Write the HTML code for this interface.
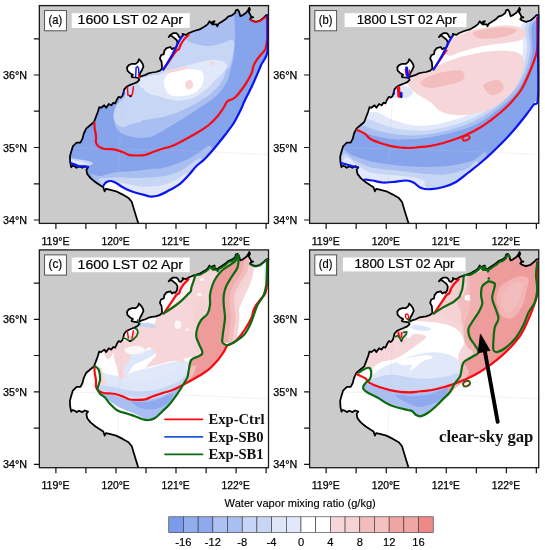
<!DOCTYPE html>
<html><head><meta charset="utf-8"><title>Water vapor mixing ratio</title>
<style>html,body{margin:0;padding:0;background:#fff}svg{display:block}.tk{font:10px "Liberation Sans",sans-serif;fill:#000;stroke:#000;stroke-width:0.25px}.lb{font:12.6px "Liberation Sans",sans-serif;fill:#000;stroke:#000;stroke-width:0.2px}.tt{font:13.4px "Liberation Sans",sans-serif;fill:#000;stroke:#000;stroke-width:0.2px}.lg{font:bold 14.6px "Liberation Serif",serif;fill:#111}.an{font:bold 16.7px "Liberation Serif",serif;fill:#111}.cb{font:11.2px "Liberation Sans",sans-serif;fill:#000;stroke:#000;stroke-width:0.15px}</style></head><body>
<svg width="545" height="550" viewBox="0 0 545 550">
<defs><clipPath id="oc"><path d="M138.4 223.6 L136.0 216.0 L133.5 207.8 L131.8 202.0 L128.5 197.9 L122.7 194.6 L116.1 191.3 L109.5 189.6 L105.9 188.8 L104.6 191.3 L103.3 187.2 L100.5 185.5 L95.5 182.2 L90.5 178.1 L87.2 173.9 L86.4 169.8 L88.1 167.3 L84.8 166.2 L82.3 167.8 L79.0 166.5 L76.5 167.8 L74.9 166.5 L72.4 165.7 L71.2 167.3 L70.2 162.4 L69.9 156.6 L70.9 152.8 L72.8 146.4 L76.7 142.5 L80.5 142.5 L82.5 138.7 L83.8 133.5 L86.3 128.4 L90.2 125.2 L94.0 122.0 L96.0 116.8 L97.9 111.7 L99.2 107.2 L101.1 107.8 L104.3 105.3 L106.2 107.8 L108.8 104.0 L111.4 105.3 L113.3 102.7 L115.2 103.3 L116.9 99.5 L118.7 96.8 L120.6 97.7 L122.4 95.9 L123.3 93.1 L124.2 89.4 L126.5 86.7 L130.2 84.9 L133.9 83.5 L137.1 82.1 L139.4 79.8 L138.4 78.0 L135.2 77.5 L132.0 77.1 L131.6 76.1 L132.9 74.8 L129.7 72.9 L127.4 70.6 L127.0 67.4 L128.8 65.1 L132.0 63.8 L135.7 63.8 L138.0 61.9 L138.9 59.2 L140.7 61.0 L142.6 63.8 L143.5 66.5 L142.1 69.7 L140.3 72.9 L139.4 75.2 L139.8 77.1 L141.7 76.1 L144.9 75.2 L148.5 73.4 L152.2 72.5 L155.9 72.0 L160.0 70.6 L162.1 68.5 L161.6 61.9 L159.9 58.5 L161.0 55.2 L163.8 54.1 L164.3 50.8 L166.5 48.1 L170.4 47.0 L172.0 49.2 L173.7 48.1 L175.3 48.6 L177.0 45.9 L177.5 42.0 L176.4 39.8 L173.7 37.6 L170.9 35.4 L168.7 37.1 L170.4 34.9 L173.1 33.2 L176.4 33.2 L178.1 34.9 L179.2 37.1 L180.8 37.6 L183.0 35.4 L182.5 33.8 L184.1 34.3 L186.3 34.9 L188.5 33.2 L194.0 31.0 L199.6 29.4 L205.0 26.3 L207.6 24.4 L209.5 21.2 L210.8 23.1 L212.7 21.8 L214.6 21.2 L212.1 24.4 L216.6 24.4 L217.2 26.3 L218.5 23.8 L221.7 21.8 L225.5 19.3 L228.1 16.7 L232.0 15.4 L235.2 12.8 L235.8 10.3 L237.8 9.6 L239.0 11.6 L240.3 16.1 L242.2 15.4 L246.1 12.8 L248.0 10.3 L249.3 7.7 L250.0 9.6 L248.7 12.2 L250.0 14.1 L251.2 16.7 L253.2 17.3 L250.6 18.0 L250.0 19.3 L251.9 20.5 L255.7 21.8 L260.2 20.5 L263.4 18.0 L266.0 15.4 L268.6 14.5 L268.5 223.4 L138.8 223.4Z"/></clipPath>
<clipPath id="oca"><path d="M267.7 15.4 L267.7 38.5 L267.5 51.4 L265.4 57.8 L261.5 64.2 L259.0 70.0 L252.5 85.0 L245.0 100.0 L241.2 108.8 L237.5 116.2 L232.5 125.0 L225.0 135.0 L215.0 147.5 L205.0 158.8 L196.2 166.2 L188.8 175.0 L180.0 183.8 L167.5 191.2 L157.5 195.8 L150.0 196.5 L145.9 195.4 L137.6 193.3 L129.4 190.5 L122.7 187.2 L116.1 183.0 L111.2 181.0 L106.2 182.2 L103.3 185.8 L95.0 182.0 L86.0 175.0 L86.0 169.5 L72.0 166.5 L60.0 166.0 L60.0 100.0 L120.0 60.0 L160.0 30.0 L240.0 0.0 L275.0 0.0Z"/></clipPath>
<clipPath id="ocb"><path d="M268.2 15.0 L267.8 45.0 L267.8 97.5 L263.2 105.0 L255.8 115.0 L245.8 127.5 L235.8 138.8 L223.2 151.2 L210.8 162.5 L198.2 172.5 L185.8 182.0 L173.2 187.0 L160.8 189.2 L150.8 188.0 L143.2 182.5 L135.8 180.5 L122.2 182.0 L112.2 182.5 L102.2 180.5 L94.8 179.5 L95.0 182.0 L86.0 175.0 L86.0 169.5 L72.0 166.5 L60.0 166.0 L60.0 100.0 L120.0 60.0 L160.0 30.0 L240.0 0.0 L275.0 0.0Z"/></clipPath>
<clipPath id="occ"><path d="M80.0 122.0 C82.5 125.7 91.9 121.3 95.0 121.9 C98.1 122.6 97.9 123.4 98.8 125.7 C99.6 128.0 100.2 132.6 100.0 135.7 C99.8 138.8 97.5 142.2 97.5 144.4 C97.5 146.7 98.8 148.0 100.0 149.4 C101.2 150.9 103.3 151.5 105.0 153.2 C106.7 154.9 107.9 157.3 110.0 159.4 C112.1 161.6 114.6 164.5 117.5 166.2 C120.4 167.9 124.6 168.5 127.5 169.4 C130.4 170.4 132.5 171.0 135.0 171.9 C137.5 172.9 140.2 174.3 142.5 174.9 C144.8 175.6 146.7 175.9 148.8 175.7 C150.8 175.5 152.7 175.2 155.0 173.7 C157.3 172.2 160.0 169.3 162.5 166.9 C165.0 164.6 167.5 162.4 170.0 159.4 C172.5 156.5 175.2 152.8 177.5 149.4 C179.8 146.1 181.9 141.5 183.8 139.4 C185.6 137.4 186.5 138.2 188.8 137.0 C191.0 135.8 194.2 134.5 197.5 132.5 C200.8 130.5 205.4 127.7 208.8 125.0 C212.1 122.3 215.0 119.2 217.5 116.2 C220.0 113.3 222.1 110.0 223.8 107.5 C225.4 105.0 226.9 102.6 227.5 101.5 C228.1 100.4 225.8 101.7 227.5 100.7 C229.2 99.7 234.6 97.6 237.5 95.7 C240.4 93.8 242.9 91.9 245.0 89.4 C247.1 86.9 248.5 83.8 250.0 80.7 C251.5 77.6 252.5 74.0 253.8 70.7 C255.0 67.4 255.8 64.0 257.5 60.7 C259.2 57.4 262.3 54.0 263.8 50.7 C265.2 47.4 265.7 44.9 266.2 40.7 C266.8 36.5 266.8 29.7 267.0 25.7 C267.2 21.7 266.2 19.6 267.5 16.9 C268.8 14.3 273.8 13.7 275.0 10.0 C276.2 6.3 280.8 -2.5 275.0 -5.0 C269.2 -7.5 259.2 -10.8 240.0 -5.0 C220.8 0.8 180.0 19.2 160.0 30.0 C140.0 40.8 133.3 48.3 120.0 60.0 C106.7 71.7 86.7 89.7 80.0 100.0 C73.3 110.3 77.5 118.3 80.0 122.0Z"/></clipPath>
<clipPath id="ocd"><path d="M80.0 128.0 C81.4 132.7 86.0 128.8 88.5 128.2 C91.0 127.6 93.0 125.2 94.8 124.4 C96.5 123.7 98.2 123.1 99.2 123.7 C100.3 124.3 100.9 126.4 101.0 128.2 C101.1 130.0 100.8 132.6 99.8 134.4 C98.7 136.3 95.9 137.9 94.8 139.4 C93.6 141.0 92.3 142.2 92.8 143.7 C93.2 145.2 94.8 146.6 97.2 148.2 C99.7 149.8 103.9 151.3 107.2 153.2 C110.6 155.1 113.9 157.8 117.2 159.4 C120.6 161.1 123.9 162.2 127.2 163.2 C130.6 164.2 134.8 165.1 137.2 165.7 C139.7 166.3 140.6 166.1 142.0 166.9 C143.4 167.8 144.3 169.9 145.8 170.7 C147.2 171.5 148.7 172.4 150.8 171.9 C152.8 171.5 155.8 169.9 158.2 168.2 C160.8 166.5 163.2 164.2 165.8 161.9 C168.2 159.7 171.0 156.7 173.2 154.4 C175.5 152.2 175.3 151.6 179.5 148.2 C183.7 144.8 193.0 137.3 198.2 133.8 C203.5 130.2 207.0 129.3 210.8 127.0 C214.5 124.7 217.4 122.5 220.8 120.0 C224.1 117.5 227.4 114.9 230.8 112.0 C234.1 109.1 237.4 106.2 240.8 102.5 C244.1 98.8 247.8 94.6 250.8 90.0 C253.7 85.4 256.0 80.2 258.2 75.0 C260.5 69.8 263.0 63.3 264.5 58.8 C266.0 54.2 266.6 54.4 267.0 47.5 C267.4 40.6 265.7 23.8 267.0 17.5 C268.3 11.2 273.7 13.8 275.0 10.0 C276.3 6.2 280.8 -2.5 275.0 -5.0 C269.2 -7.5 259.2 -10.8 240.0 -5.0 C220.8 0.8 180.0 19.2 160.0 30.0 C140.0 40.8 133.3 48.3 120.0 60.0 C106.7 71.7 86.7 88.7 80.0 100.0 C73.3 111.3 78.6 123.3 80.0 128.0Z"/></clipPath>
<clipPath id="crl"><path d="M238.8 11.9 C237.5 15.8 238.8 19.7 237.5 23.2 C236.2 26.7 233.1 30.1 231.2 33.2 C229.4 36.3 227.5 39.0 226.2 41.9 C225.0 44.9 224.2 47.6 223.8 50.7 C223.3 53.8 223.5 56.9 223.8 60.7 C224.0 64.4 225.0 69.4 225.0 73.2 C225.0 76.9 224.2 79.9 223.8 83.2 C223.3 86.5 222.7 90.7 222.5 93.2 C222.3 95.7 221.7 96.9 222.5 98.2 C223.3 99.4 225.0 101.1 227.5 100.7 C230.0 100.3 234.6 97.6 237.5 95.7 C240.4 93.8 242.9 91.9 245.0 89.4 C247.1 86.9 248.5 83.8 250.0 80.7 C251.5 77.6 252.5 74.0 253.8 70.7 C255.0 67.4 255.8 64.0 257.5 60.7 C259.2 57.4 262.3 54.0 263.8 50.7 C265.2 47.4 265.7 44.9 266.2 40.7 C266.8 36.5 266.8 29.7 267.0 25.7 C267.2 21.7 266.2 19.6 267.5 16.9 C268.8 14.3 273.8 12.8 275.0 10.0 C276.2 7.2 280.0 1.7 275.0 0.0 C270.0 -1.7 251.0 -2.0 245.0 0.0 C239.0 2.0 240.0 8.1 238.8 11.9Z"/></clipPath>
</defs>
<rect width="545" height="550" fill="#fff"/>
<g transform="translate(0,0)">
<rect x="39.35" y="5.6" width="229.15" height="217.8" fill="#cbcbcb"/>
<path d="M138.4 223.6 L136.0 216.0 L133.5 207.8 L131.8 202.0 L128.5 197.9 L122.7 194.6 L116.1 191.3 L109.5 189.6 L105.9 188.8 L104.6 191.3 L103.3 187.2 L100.5 185.5 L95.5 182.2 L90.5 178.1 L87.2 173.9 L86.4 169.8 L88.1 167.3 L84.8 166.2 L82.3 167.8 L79.0 166.5 L76.5 167.8 L74.9 166.5 L72.4 165.7 L71.2 167.3 L70.2 162.4 L69.9 156.6 L70.9 152.8 L72.8 146.4 L76.7 142.5 L80.5 142.5 L82.5 138.7 L83.8 133.5 L86.3 128.4 L90.2 125.2 L94.0 122.0 L96.0 116.8 L97.9 111.7 L99.2 107.2 L101.1 107.8 L104.3 105.3 L106.2 107.8 L108.8 104.0 L111.4 105.3 L113.3 102.7 L115.2 103.3 L116.9 99.5 L118.7 96.8 L120.6 97.7 L122.4 95.9 L123.3 93.1 L124.2 89.4 L126.5 86.7 L130.2 84.9 L133.9 83.5 L137.1 82.1 L139.4 79.8 L138.4 78.0 L135.2 77.5 L132.0 77.1 L131.6 76.1 L132.9 74.8 L129.7 72.9 L127.4 70.6 L127.0 67.4 L128.8 65.1 L132.0 63.8 L135.7 63.8 L138.0 61.9 L138.9 59.2 L140.7 61.0 L142.6 63.8 L143.5 66.5 L142.1 69.7 L140.3 72.9 L139.4 75.2 L139.8 77.1 L141.7 76.1 L144.9 75.2 L148.5 73.4 L152.2 72.5 L155.9 72.0 L160.0 70.6 L162.1 68.5 L161.6 61.9 L159.9 58.5 L161.0 55.2 L163.8 54.1 L164.3 50.8 L166.5 48.1 L170.4 47.0 L172.0 49.2 L173.7 48.1 L175.3 48.6 L177.0 45.9 L177.5 42.0 L176.4 39.8 L173.7 37.6 L170.9 35.4 L168.7 37.1 L170.4 34.9 L173.1 33.2 L176.4 33.2 L178.1 34.9 L179.2 37.1 L180.8 37.6 L183.0 35.4 L182.5 33.8 L184.1 34.3 L186.3 34.9 L188.5 33.2 L194.0 31.0 L199.6 29.4 L205.0 26.3 L207.6 24.4 L209.5 21.2 L210.8 23.1 L212.7 21.8 L214.6 21.2 L212.1 24.4 L216.6 24.4 L217.2 26.3 L218.5 23.8 L221.7 21.8 L225.5 19.3 L228.1 16.7 L232.0 15.4 L235.2 12.8 L235.8 10.3 L237.8 9.6 L239.0 11.6 L240.3 16.1 L242.2 15.4 L246.1 12.8 L248.0 10.3 L249.3 7.7 L250.0 9.6 L248.7 12.2 L250.0 14.1 L251.2 16.7 L253.2 17.3 L250.6 18.0 L250.0 19.3 L251.9 20.5 L255.7 21.8 L260.2 20.5 L263.4 18.0 L266.0 15.4 L268.6 14.5 L268.5 223.4 L138.8 223.4Z" fill="#fff"/>
<g clip-path="url(#oc)">
<path d="M267.7 15.4 L267.7 38.5 L267.5 51.4 L265.4 57.8 L261.5 64.2 L259.0 70.0 L252.5 85.0 L245.0 100.0 L241.2 108.8 L237.5 116.2 L232.5 125.0 L225.0 135.0 L215.0 147.5 L205.0 158.8 L196.2 166.2 L188.8 175.0 L180.0 183.8 L167.5 191.2 L157.5 195.8 L150.0 196.5 L145.9 195.4 L137.6 193.3 L129.4 190.5 L122.7 187.2 L116.1 183.0 L111.2 181.0 L106.2 182.2 L103.3 185.8 L95.0 182.0 L86.0 175.0 L86.0 169.5 L72.0 166.5 L60.0 166.0 L60.0 100.0 L120.0 60.0 L160.0 30.0 L240.0 0.0 L275.0 0.0Z" fill="#86a4ec"/>
<path d="M196.2 166.2 C192.4 170.4 191.5 172.1 188.8 175.0 C186.0 177.9 183.5 181.0 180.0 183.8 C176.5 186.5 171.2 189.2 167.5 191.2 C163.8 193.2 160.4 194.9 157.5 195.8 C154.6 196.6 151.9 196.6 150.0 196.5 C148.1 196.4 148.0 195.9 145.9 195.4 C143.8 194.9 140.3 194.1 137.6 193.3 C134.8 192.5 131.9 191.5 129.4 190.5 C126.9 189.5 124.9 188.4 122.7 187.2 C120.5 185.9 118.0 184.0 116.1 183.0 C114.2 182.0 112.8 181.1 111.2 181.0 C109.6 180.9 107.5 181.4 106.2 182.2 C104.9 183.0 105.2 186.2 103.3 185.8 C101.4 185.4 97.0 182.0 95.0 180.0 C93.0 178.0 90.2 174.7 91.0 174.0 C91.8 173.3 96.8 176.1 100.0 176.0 C103.2 175.9 107.0 174.2 110.0 173.5 C113.0 172.8 115.0 172.3 118.0 172.0 C121.0 171.7 124.3 171.8 128.0 171.5 C131.7 171.2 136.3 170.9 140.0 170.5 C143.7 170.1 146.7 169.3 150.0 169.0 C153.3 168.7 156.7 169.0 160.0 168.5 C163.3 168.0 166.7 167.0 170.0 166.0 C173.3 165.0 176.7 163.8 180.0 162.5 C183.3 161.2 186.7 159.8 190.0 158.0 C193.3 156.2 197.0 154.0 200.0 152.0 C203.0 150.0 206.0 146.3 208.0 146.0 C210.0 145.7 214.0 146.6 212.0 150.0 C210.0 153.4 200.1 162.1 196.2 166.2Z" fill="#a9bef1"/>
<path d="M196.2 166.2 C193.9 168.8 191.5 172.1 188.8 175.0 C186.0 177.9 183.5 181.0 180.0 183.8 C176.5 186.5 171.2 189.2 167.5 191.2 C163.8 193.2 160.4 194.9 157.5 195.8 C154.6 196.6 151.9 196.6 150.0 196.5 C148.1 196.4 148.0 195.9 145.9 195.4 C143.8 194.9 140.3 194.1 137.6 193.3 C134.8 192.5 131.9 191.5 129.4 190.5 C126.9 189.5 124.9 188.4 122.7 187.2 C120.5 185.9 118.0 184.0 116.1 183.0 C114.2 182.0 112.8 181.1 111.2 181.0 C109.6 180.9 107.5 181.4 106.2 182.2 C104.9 183.0 104.5 186.3 103.3 185.8 C102.1 185.3 98.4 180.3 99.0 179.0 C99.6 177.7 104.2 178.3 107.0 178.0 C109.8 177.7 112.8 177.1 116.0 177.0 C119.2 176.9 122.3 177.3 126.0 177.5 C129.7 177.7 134.0 178.0 138.0 178.0 C142.0 178.0 145.5 177.8 150.0 177.5 C154.5 177.2 160.3 176.9 165.0 176.0 C169.7 175.1 174.2 173.7 178.0 172.0 C181.8 170.3 184.7 168.2 188.0 166.0 C191.3 163.8 195.5 160.0 198.0 159.0 C200.5 158.0 203.3 158.8 203.0 160.0 C202.7 161.2 198.6 163.8 196.2 166.2Z" fill="#c8d6f6"/>
<path d="M188.8 175.0 C187.9 176.6 183.5 181.0 180.0 183.8 C176.5 186.5 171.2 189.2 167.5 191.2 C163.8 193.2 160.4 194.9 157.5 195.8 C154.6 196.6 151.9 196.6 150.0 196.5 C148.1 196.4 148.0 195.9 145.9 195.4 C143.8 194.9 140.3 194.1 137.6 193.3 C134.8 192.5 131.9 191.5 129.4 190.5 C126.9 189.5 124.9 188.4 122.7 187.2 C120.5 185.9 118.0 184.0 116.1 183.0 C114.2 182.0 112.8 181.1 111.2 181.0 C109.6 180.9 107.5 181.4 106.2 182.2 C104.9 183.0 103.8 185.5 103.3 185.8 C102.8 186.1 102.2 184.8 103.0 184.0 C103.8 183.2 106.0 181.5 108.0 181.0 C110.0 180.5 112.2 180.6 115.0 181.0 C117.8 181.4 121.3 182.7 125.0 183.5 C128.7 184.3 132.8 185.5 137.0 186.0 C141.2 186.5 145.7 186.7 150.0 186.5 C154.3 186.3 158.8 186.0 163.0 185.0 C167.2 184.0 171.3 182.3 175.0 180.5 C178.7 178.7 182.7 174.9 185.0 174.0 C187.3 173.1 189.6 173.4 188.8 175.0Z" fill="#e0e8fa"/>
<path d="M70.0 158.0 C70.7 157.3 73.3 158.6 76.0 159.0 C78.7 159.4 83.2 159.8 86.0 160.5 C88.8 161.2 92.7 162.1 93.0 163.0 C93.3 163.9 90.2 165.8 88.0 166.0 C85.8 166.2 82.7 165.0 80.0 164.5 C77.3 164.0 73.7 164.1 72.0 163.0 C70.3 161.9 69.3 158.7 70.0 158.0Z" fill="#c8d6f6"/>
<path d="M70.0 160.5 C70.7 160.1 73.7 160.7 76.0 161.0 C78.3 161.3 82.0 161.8 84.0 162.5 C86.0 163.2 88.7 164.6 88.0 165.0 C87.3 165.4 82.7 165.1 80.0 164.8 C77.3 164.6 73.7 164.2 72.0 163.5 C70.3 162.8 69.3 160.9 70.0 160.5Z" fill="#e0e8fa"/>
<path d="M233.8 12.0 C234.6 18.2 235.2 29.1 235.0 37.5 C234.8 45.9 234.2 55.0 232.5 62.5 C230.8 70.0 228.8 76.2 225.0 82.5 C221.2 88.8 215.4 95.0 210.0 100.0 C204.6 105.0 198.8 108.3 192.5 112.5 C186.2 116.7 178.8 121.2 172.5 125.0 C166.2 128.8 159.2 132.9 155.0 135.0 C150.8 137.1 150.8 137.1 147.5 137.5 C144.2 137.9 139.2 138.1 135.0 137.5 C130.8 136.9 125.6 135.4 122.5 133.8 C119.4 132.1 117.7 130.2 116.2 127.5 C114.8 124.8 114.0 120.8 113.8 117.5 C113.5 114.2 114.2 110.6 115.0 107.5 C115.8 104.4 119.6 101.9 118.8 99.0 C117.9 96.1 104.8 98.2 110.0 90.0 C115.2 81.8 135.0 62.5 150.0 50.0 C165.0 37.5 186.7 23.3 200.0 15.0 C213.3 6.7 224.4 0.5 230.0 0.0 C235.6 -0.5 232.9 5.8 233.8 12.0Z" fill="#a9bef1"/>
<path d="M232.5 40.0 C234.4 41.2 234.6 44.6 233.8 50.0 C232.9 55.4 230.6 65.8 227.5 72.5 C224.4 79.2 220.0 85.0 215.0 90.0 C210.0 95.0 203.8 98.8 197.5 102.5 C191.2 106.2 184.6 109.6 177.5 112.5 C170.4 115.4 162.1 118.2 155.0 120.0 C147.9 121.8 140.5 121.8 135.0 123.0 C129.5 124.2 125.4 127.3 122.0 127.0 C118.6 126.7 115.8 123.5 114.5 121.0 C113.2 118.5 113.4 114.8 114.0 112.0 C114.6 109.2 116.2 106.7 118.0 104.0 C119.8 101.3 124.7 99.2 125.0 96.0 C125.3 92.8 115.8 91.0 120.0 85.0 C124.2 79.0 141.7 67.5 150.0 60.0 C158.3 52.5 164.5 43.7 170.0 40.0 C175.5 36.3 179.2 37.5 183.0 38.0 C186.8 38.5 188.4 41.7 192.5 43.0 C196.6 44.3 202.5 46.0 207.5 46.0 C212.5 46.0 218.3 44.0 222.5 43.0 C226.7 42.0 230.6 38.8 232.5 40.0Z" fill="#c8d6f6"/>
<path d="M141.3 122.8 C145.0 122.2 156.4 120.8 163.3 119.2 C170.2 117.6 176.2 115.7 182.6 113.1 C189.0 110.5 196.3 106.8 201.8 103.5 C207.3 100.2 211.7 97.2 215.6 93.3 C219.5 89.4 223.1 84.2 225.2 80.1 C227.4 76.0 227.8 70.5 228.3 68.5" fill="none" stroke="#a9bef1" stroke-width="4.5"/>
<path d="M144.0 86.4 C145.4 83.9 150.5 79.5 155.1 76.8 C159.6 74.0 165.6 72.0 171.6 69.9 C177.5 67.8 184.4 66.0 190.8 64.4 C197.3 62.8 204.6 60.7 210.1 60.3 C215.6 59.8 221.1 60.3 223.9 61.7 C226.6 63.0 228.0 65.6 226.6 68.5 C225.2 71.5 219.3 75.9 215.6 79.5 C211.9 83.2 208.7 87.3 204.6 90.6 C200.5 93.8 195.9 97.2 190.8 98.8 C185.8 100.4 179.8 100.6 174.3 100.2 C168.8 99.7 162.4 97.4 157.8 96.1 C153.2 94.7 149.1 93.5 146.8 91.9 C144.5 90.3 142.7 89.0 144.0 86.4Z" fill="#e0e8fa"/>
<path d="M163.9 80.9 C164.3 77.3 167.5 73.8 171.6 71.8 C175.6 69.9 183.0 69.1 188.1 69.1 C193.1 69.1 199.3 69.6 201.8 71.8 C204.4 74.0 204.1 78.9 203.2 82.3 C202.3 85.6 199.8 89.6 196.3 91.9 C192.9 94.2 187.2 95.7 182.6 96.1 C178.0 96.4 171.9 96.4 168.8 93.9 C165.7 91.3 163.4 84.6 163.9 80.9Z" fill="#fff"/>
<path d="M165.5 70.7 C166.9 70.0 172.3 69.2 175.7 68.5 C179.1 67.8 183.9 66.6 185.9 66.6 C187.9 66.6 189.0 67.8 187.5 68.5 C186.1 69.3 180.4 70.6 177.1 71.3 C173.7 72.0 169.4 73.0 167.4 72.9 C165.5 72.8 164.1 71.5 165.5 70.7Z" fill="#f6d6d8"/>
<path d="M185.9 81.7 C186.9 80.7 190.2 79.6 191.4 80.4 C192.6 81.2 193.5 84.9 193.0 86.4 C192.6 87.9 189.9 89.5 188.6 89.5 C187.3 89.5 185.8 87.7 185.3 86.4 C184.9 85.1 184.9 82.8 185.9 81.7Z" fill="#f6d6d8"/>
<path d="M210.1 62.5 C210.7 62.0 213.7 61.6 214.5 61.9 C215.3 62.3 215.4 64.2 214.8 64.7 C214.1 65.2 211.4 65.3 210.7 65.0 C209.9 64.6 209.5 63.0 210.1 62.5Z" fill="#f6d6d8"/>
<path d="M139.0 80.0 C139.8 78.2 143.2 77.8 146.0 77.0 C148.8 76.2 154.0 74.5 156.0 75.0 C158.0 75.5 159.0 78.2 158.0 80.0 C157.0 81.8 152.8 84.7 150.0 86.0 C147.2 87.3 142.8 89.0 141.0 88.0 C139.2 87.0 138.2 81.8 139.0 80.0Z" fill="#e0e8fa"/>
</g>
<path d="M135.2 77.5 L132.0 77.1 L131.6 76.1 L132.9 74.8 L129.7 72.9 L127.4 70.6 L127.0 67.4 L128.8 65.1 L132.0 63.8 L135.7 63.8 L138.0 61.9 L138.9 59.2 L140.7 61.0 L142.6 63.8 L143.5 66.5 L142.1 69.7 L140.3 72.9 L139.4 75.2 L139.8 77.1 L138.4 78.0Z" fill="#fff"/>
<path d="M162.1 68.5 L161.6 61.9 L159.9 58.5 L161.0 55.2 L163.8 54.1 L164.3 50.8 L166.5 48.1 L170.4 47.0 L172.0 49.2 L173.7 48.1 L175.3 48.6 L177.0 45.9 L177.5 42.0 L176.4 39.8 L173.7 37.6 L170.9 35.4 L168.7 37.1 L170.4 34.9 L173.1 33.2 L176.4 33.2 L178.1 34.9 L179.2 37.1 L180.8 37.6 L183.0 35.4 L182.0 36.5 L178.6 42.0 L172.0 55.2 L163.2 69.6Z" fill="#fff"/>
<path d="M116 223.4 L126.5 5.6 M39.35 147.5 Q150 148.5 268.5 154.6" stroke="#c8c8c8" stroke-width="0.6" opacity="0.4" fill="none" clip-path="url(#oc)"/>
<path d="M138.4 223.6 L136.0 216.0 L133.5 207.8 L131.8 202.0 L128.5 197.9 L122.7 194.6 L116.1 191.3 L109.5 189.6 L105.9 188.8 L104.6 191.3 L103.3 187.2 L100.5 185.5 L95.5 182.2 L90.5 178.1 L87.2 173.9 L86.4 169.8 L88.1 167.3 L84.8 166.2 L82.3 167.8 L79.0 166.5 L76.5 167.8 L74.9 166.5 L72.4 165.7 L71.2 167.3 L70.2 162.4 L69.9 156.6 L70.9 152.8 L72.8 146.4 L76.7 142.5 L80.5 142.5 L82.5 138.7 L83.8 133.5 L86.3 128.4 L90.2 125.2 L94.0 122.0 L96.0 116.8 L97.9 111.7 L99.2 107.2 L101.1 107.8 L104.3 105.3 L106.2 107.8 L108.8 104.0 L111.4 105.3 L113.3 102.7 L115.2 103.3 L116.9 99.5 L118.7 96.8 L120.6 97.7 L122.4 95.9 L123.3 93.1 L124.2 89.4 L126.5 86.7 L130.2 84.9 L133.9 83.5 L137.1 82.1 L139.4 79.8 L138.4 78.0 L135.2 77.5 L132.0 77.1 L131.6 76.1 L132.9 74.8 L129.7 72.9 L127.4 70.6 L127.0 67.4 L128.8 65.1 L132.0 63.8 L135.7 63.8 L138.0 61.9 L138.9 59.2 L140.7 61.0 L142.6 63.8 L143.5 66.5 L142.1 69.7 L140.3 72.9 L139.4 75.2 L139.8 77.1 L141.7 76.1 L144.9 75.2 L148.5 73.4 L152.2 72.5 L155.9 72.0 L160.0 70.6 L162.1 68.5 L161.6 61.9 L159.9 58.5 L161.0 55.2 L163.8 54.1 L164.3 50.8 L166.5 48.1 L170.4 47.0 L172.0 49.2 L173.7 48.1 L175.3 48.6 L177.0 45.9 L177.5 42.0 L176.4 39.8 L173.7 37.6 L170.9 35.4 L168.7 37.1 L170.4 34.9 L173.1 33.2 L176.4 33.2 L178.1 34.9 L179.2 37.1 L180.8 37.6 L183.0 35.4 L182.5 33.8 L184.1 34.3 L186.3 34.9 L188.5 33.2 L194.0 31.0 L199.6 29.4 L205.0 26.3 L207.6 24.4 L209.5 21.2 L210.8 23.1 L212.7 21.8 L214.6 21.2 L212.1 24.4 L216.6 24.4 L217.2 26.3 L218.5 23.8 L221.7 21.8 L225.5 19.3 L228.1 16.7 L232.0 15.4 L235.2 12.8 L235.8 10.3 L237.8 9.6 L239.0 11.6 L240.3 16.1 L242.2 15.4 L246.1 12.8 L248.0 10.3 L249.3 7.7 L250.0 9.6 L248.7 12.2 L250.0 14.1 L251.2 16.7 L253.2 17.3 L250.6 18.0 L250.0 19.3 L251.9 20.5 L255.7 21.8 L260.2 20.5 L263.4 18.0 L266.0 15.4 L268.6 14.5" fill="none" stroke="#000" stroke-width="1.75" stroke-linejoin="round"/>
<path d="M267.0 17.0 C267.0 18.3 267.2 21.4 267.2 25.0 C267.2 28.6 267.5 34.5 267.2 38.5 C266.9 42.5 266.3 46.2 265.4 48.8 C264.4 51.4 263.0 52.1 261.5 54.0 C260.0 55.9 257.8 58.3 256.4 60.4 C255.0 62.5 254.0 64.6 253.2 66.8 C252.4 69.0 252.9 70.5 251.5 73.5 C250.1 76.5 247.8 81.0 245.0 85.0 C242.2 89.0 237.9 94.8 235.0 97.5 C232.1 100.2 229.4 99.6 227.5 101.2 C225.6 102.9 225.4 105.0 223.8 107.5 C222.1 110.0 220.0 113.3 217.5 116.2 C215.0 119.2 212.1 122.3 208.8 125.0 C205.4 127.7 201.5 130.1 197.5 132.5 C193.5 134.9 189.2 137.3 185.0 139.5 C180.8 141.7 176.2 144.2 172.5 145.8 C168.8 147.3 165.8 147.7 162.5 148.8 C159.2 149.8 155.4 151.2 152.5 152.2 C149.6 153.3 147.5 154.5 145.0 155.0 C142.5 155.5 140.0 155.5 137.5 155.5 C135.0 155.5 132.2 155.6 130.0 155.2 C127.8 154.8 126.2 153.6 124.2 152.8 C122.2 152.0 119.9 151.0 117.8 150.4 C115.7 149.8 113.8 149.5 111.4 149.2 C109.1 148.9 105.9 149.2 103.7 148.7 C101.5 148.2 99.8 147.4 98.5 146.4 C97.2 145.4 96.4 144.2 96.0 142.5 C95.6 140.8 96.2 138.4 96.0 136.1 C95.8 133.8 95.0 130.7 94.7 128.4 C94.4 126.2 94.5 123.6 94.4 122.6" fill="none" stroke="#f80a12" stroke-width="2.2" stroke-linejoin="round" stroke-linecap="round"/>
<path d="M250.5 19.7 L252.0 20.9 L255.7 22.3 L260.2 21.0 L263.4 18.6 L266.8 16.5" fill="none" stroke="#f80a12" stroke-width="1.6" stroke-linejoin="round" stroke-linecap="round"/>
<path d="M163.8 69.0 C165.2 67.0 169.9 60.1 172.0 57.0 C174.1 53.9 175.4 51.7 176.6 50.4 C177.8 49.1 178.3 50.0 179.0 49.0 C179.7 48.0 180.0 46.0 180.8 44.4 C181.7 42.8 182.8 41.0 184.1 39.4 C185.4 37.8 187.8 35.7 188.5 35.0" fill="none" stroke="#f80a12" stroke-width="2.2" stroke-linejoin="round" stroke-linecap="round"/>
<path d="M267.7 15.4 C267.7 19.2 267.7 32.5 267.7 38.5 C267.7 44.5 267.9 48.2 267.5 51.4 C267.1 54.6 266.4 55.7 265.4 57.8 C264.4 59.9 262.6 62.2 261.5 64.2 C260.4 66.2 260.5 66.5 259.0 70.0 C257.5 73.5 254.8 80.0 252.5 85.0 C250.2 90.0 246.9 96.0 245.0 100.0 C243.1 104.0 242.5 106.0 241.2 108.8 C240.0 111.5 239.0 113.5 237.5 116.2 C236.0 119.0 234.6 121.9 232.5 125.0 C230.4 128.1 227.9 131.2 225.0 135.0 C222.1 138.8 218.3 143.5 215.0 147.5 C211.7 151.5 208.1 155.6 205.0 158.8 C201.9 161.9 199.0 163.5 196.2 166.2 C193.5 169.0 191.5 172.1 188.8 175.0 C186.0 177.9 183.5 181.0 180.0 183.8 C176.5 186.5 171.2 189.2 167.5 191.2 C163.8 193.2 160.4 194.9 157.5 195.8 C154.6 196.6 151.9 196.6 150.0 196.5 C148.1 196.4 148.0 195.9 145.9 195.4 C143.8 194.9 140.3 194.1 137.6 193.3 C134.8 192.5 131.9 191.5 129.4 190.5 C126.9 189.5 124.9 188.4 122.7 187.2 C120.5 185.9 118.0 184.0 116.1 183.0 C114.2 182.0 112.8 181.1 111.2 181.0 C109.6 180.9 107.5 181.4 106.2 182.2 C104.9 183.0 103.8 185.2 103.3 185.8" fill="none" stroke="#0a14f0" stroke-width="2.2" stroke-linejoin="round" stroke-linecap="round"/>
<path d="M163.2 69.6 C164.7 67.2 169.4 59.8 172.0 55.2 C174.6 50.6 176.9 45.1 178.6 42.0 C180.3 38.9 181.4 37.4 182.0 36.5" fill="none" stroke="#0a14f0" stroke-width="2.2" stroke-linejoin="round" stroke-linecap="round"/>
<path d="M71.2 163.2 L74.9 164.5 L78.2 166.3 L82.3 166.3 L85.6 166.6 L88.1 166.8" fill="none" stroke="#0a14f0" stroke-width="2.2" stroke-linejoin="round" stroke-linecap="round"/>
<path d="M127.4 87.2 L127.9 95.0 L130.6 96.3 L132.5 94.0 L133.4 86.7" fill="none" stroke="#f80a12" stroke-width="1.5" stroke-linejoin="round" stroke-linecap="round"/>
<circle cx="130.6" cy="96.2" r="1.1" fill="#000"/>
<path d="M123.8 91.3 L123.8 94.2" fill="none" stroke="#0a14f0" stroke-width="1.4" stroke-linejoin="round" stroke-linecap="round"/>
<path d="M135.7 77.0 L136.1 67.5 L137.5 66.5 L138.6 68.5 L139.0 75.0" fill="none" stroke="#0a14f0" stroke-width="1.4" stroke-linejoin="round" stroke-linecap="round"/>
<path d="M138.2 74.8 L139.5 77.6" fill="none" stroke="#f80a12" stroke-width="1.4" stroke-linejoin="round" stroke-linecap="round"/>
<path d="M33.85 38.8 H39.35 M33.85 75.0 H39.35 M33.85 111.2 H39.35 M33.85 147.5 H39.35 M33.85 183.8 H39.35 M33.85 220.0 H39.35 M55.9 223.4 V228.9 M85.9 223.4 V228.9 M116.0 223.4 V228.9 M146.0 223.4 V228.9 M176.0 223.4 V228.9 M206.1 223.4 V228.9 M236.1 223.4 V228.9 M266.1 223.4 V228.9" stroke="#111" stroke-width="1.2" fill="none"/>
<rect x="39.35" y="5.6" width="229.15" height="217.8" fill="none" stroke="#1a1a1a" stroke-width="1.3"/>
<text x="3.0" y="79.1" textLength="24" lengthAdjust="spacingAndGlyphs" class="tk">36°N</text>
<text x="3.0" y="151.6" textLength="24" lengthAdjust="spacingAndGlyphs" class="tk">35°N</text>
<text x="3.0" y="224.1" textLength="24" lengthAdjust="spacingAndGlyphs" class="tk">34°N</text>
<text x="41.4" y="244.7" textLength="28.2" lengthAdjust="spacingAndGlyphs" class="tk">119°E</text>
<text x="101.5" y="244.7" textLength="28.2" lengthAdjust="spacingAndGlyphs" class="tk">120°E</text>
<text x="161.5" y="244.7" textLength="28.2" lengthAdjust="spacingAndGlyphs" class="tk">121°E</text>
<text x="221.6" y="244.7" textLength="28.2" lengthAdjust="spacingAndGlyphs" class="tk">122°E</text>
<rect x="44.6" y="10.6" width="21.8" height="20.2" fill="#fff" stroke="#444" stroke-width="0.9"/>
<text x="48.6" y="23.5" textLength="13.6" lengthAdjust="spacingAndGlyphs" class="lb">(a)</text>
<rect x="71.7" y="13.2" width="117.99999999999999" height="14.7" fill="#fff"/>
<text x="77.6" y="24.3" textLength="105.4" lengthAdjust="spacingAndGlyphs" style="font-size:13.3px" class="tt">1600 LST 02 Apr</text>
</g>
<g transform="translate(270.25,0)">
<rect x="39.35" y="5.6" width="229.15" height="217.8" fill="#cbcbcb"/>
<path d="M138.4 223.6 L136.0 216.0 L133.5 207.8 L131.8 202.0 L128.5 197.9 L122.7 194.6 L116.1 191.3 L109.5 189.6 L105.9 188.8 L104.6 191.3 L103.3 187.2 L100.5 185.5 L95.5 182.2 L90.5 178.1 L87.2 173.9 L86.4 169.8 L88.1 167.3 L84.8 166.2 L82.3 167.8 L79.0 166.5 L76.5 167.8 L74.9 166.5 L72.4 165.7 L71.2 167.3 L70.2 162.4 L69.9 156.6 L70.9 152.8 L72.8 146.4 L76.7 142.5 L80.5 142.5 L82.5 138.7 L83.8 133.5 L86.3 128.4 L90.2 125.2 L94.0 122.0 L96.0 116.8 L97.9 111.7 L99.2 107.2 L101.1 107.8 L104.3 105.3 L106.2 107.8 L108.8 104.0 L111.4 105.3 L113.3 102.7 L115.2 103.3 L116.9 99.5 L118.7 96.8 L120.6 97.7 L122.4 95.9 L123.3 93.1 L124.2 89.4 L126.5 86.7 L130.2 84.9 L133.9 83.5 L137.1 82.1 L139.4 79.8 L138.4 78.0 L135.2 77.5 L132.0 77.1 L131.6 76.1 L132.9 74.8 L129.7 72.9 L127.4 70.6 L127.0 67.4 L128.8 65.1 L132.0 63.8 L135.7 63.8 L138.0 61.9 L138.9 59.2 L140.7 61.0 L142.6 63.8 L143.5 66.5 L142.1 69.7 L140.3 72.9 L139.4 75.2 L139.8 77.1 L141.7 76.1 L144.9 75.2 L148.5 73.4 L152.2 72.5 L155.9 72.0 L160.0 70.6 L162.1 68.5 L161.6 61.9 L159.9 58.5 L161.0 55.2 L163.8 54.1 L164.3 50.8 L166.5 48.1 L170.4 47.0 L172.0 49.2 L173.7 48.1 L175.3 48.6 L177.0 45.9 L177.5 42.0 L176.4 39.8 L173.7 37.6 L170.9 35.4 L168.7 37.1 L170.4 34.9 L173.1 33.2 L176.4 33.2 L178.1 34.9 L179.2 37.1 L180.8 37.6 L183.0 35.4 L182.5 33.8 L184.1 34.3 L186.3 34.9 L188.5 33.2 L194.0 31.0 L199.6 29.4 L205.0 26.3 L207.6 24.4 L209.5 21.2 L210.8 23.1 L212.7 21.8 L214.6 21.2 L212.1 24.4 L216.6 24.4 L217.2 26.3 L218.5 23.8 L221.7 21.8 L225.5 19.3 L228.1 16.7 L232.0 15.4 L235.2 12.8 L235.8 10.3 L237.8 9.6 L239.0 11.6 L240.3 16.1 L242.2 15.4 L246.1 12.8 L248.0 10.3 L249.3 7.7 L250.0 9.6 L248.7 12.2 L250.0 14.1 L251.2 16.7 L253.2 17.3 L250.6 18.0 L250.0 19.3 L251.9 20.5 L255.7 21.8 L260.2 20.5 L263.4 18.0 L266.0 15.4 L268.6 14.5 L268.5 223.4 L138.8 223.4Z" fill="#fff"/>
<g clip-path="url(#oc)">
<path d="M268.2 15.0 L267.8 45.0 L267.8 97.5 L263.2 105.0 L255.8 115.0 L245.8 127.5 L235.8 138.8 L223.2 151.2 L210.8 162.5 L198.2 172.5 L185.8 182.0 L173.2 187.0 L160.8 189.2 L150.8 188.0 L143.2 182.5 L135.8 180.5 L122.2 182.0 L112.2 182.5 L102.2 180.5 L94.8 179.5 L95.0 182.0 L86.0 175.0 L86.0 169.5 L72.0 166.5 L60.0 166.0 L60.0 100.0 L120.0 60.0 L160.0 30.0 L240.0 0.0 L275.0 0.0Z" fill="#86a4ec"/>
<g clip-path="url(#ocb)">
<path d="M70.8 152.4 C72.6 143.9 76.7 153.6 81.8 155.1 C86.8 156.7 93.2 159.7 101.0 161.5 C108.8 163.2 119.4 164.7 128.6 165.6 C137.7 166.5 147.4 167.0 156.1 167.0 C164.8 167.0 173.1 166.7 180.9 165.6 C188.7 164.5 196.9 162.4 202.9 160.6 C208.8 158.9 214.4 147.6 216.6 155.1 C218.9 162.7 241.0 197.6 216.6 206.1 C192.3 214.5 95.1 215.0 70.8 206.1 C46.4 197.1 68.9 160.9 70.8 152.4Z" fill="#a9bef1"/>
<path d="M72.1 156.5 C74.4 148.9 79.7 158.8 84.5 160.6 C89.3 162.5 93.7 165.8 101.0 167.5 C108.4 169.2 120.3 169.8 128.6 170.8 C136.8 171.8 143.7 172.9 150.6 173.6 C157.5 174.2 164.3 174.8 169.9 174.7 C175.4 174.6 179.0 174.0 183.6 173.0 C188.2 172.0 193.2 170.2 197.4 168.6 C201.5 167.0 205.2 157.2 208.4 163.4 C211.6 169.6 239.6 199.0 216.6 206.1 C193.7 213.2 94.8 214.3 70.8 206.1 C46.7 197.8 69.8 164.1 72.1 156.5Z" fill="#c8d6f6"/>
<path d="M73.5 159.8 C76.0 152.8 81.8 162.2 85.9 164.2 C90.0 166.2 93.5 170.2 98.3 171.9 C103.1 173.6 109.3 173.7 114.8 174.4 C120.3 175.1 125.8 175.4 131.3 176.1 C136.8 176.7 143.9 177.2 147.8 178.5 C151.7 179.9 154.3 179.5 154.7 184.0 C155.2 188.6 164.6 202.4 150.6 206.1 C136.6 209.7 83.6 213.8 70.8 206.1 C57.9 198.4 71.0 166.8 73.5 159.8Z" fill="#e0e8fa"/>
</g>
<path d="M86.3 129.3 C91.8 131.8 96.4 133.9 102.8 135.5 C109.2 137.2 116.8 138.7 124.8 139.2 C132.7 139.7 141.3 139.5 150.5 138.4 C159.7 137.4 170.7 135.3 179.8 132.9 C189.0 130.6 197.6 128.3 205.5 124.5 C213.5 120.6 220.8 115.1 227.5 109.8 C234.3 104.5 241.0 98.8 245.9 92.6 C250.8 86.3 254.2 79.4 256.9 72.4 C259.6 65.4 261.2 58.3 262.0 50.4 C262.9 42.4 259.8 31.4 262.0 24.7 C264.2 18.0 282.8 13.7 275.3 10.0 C267.7 6.3 238.6 -3.5 216.5 2.7 C194.5 8.8 161.5 33.2 143.1 46.7 C124.8 60.2 118.7 71.2 106.4 83.4 C94.2 95.6 73.1 112.4 69.8 120.1 C66.4 127.7 80.8 126.7 86.3 129.3Z" fill="#a9bef1"/>
<path d="M89.9 124.5 C96.0 126.2 100.0 128.7 106.4 130.4 C112.9 132.1 120.5 134.0 128.5 134.8 C136.4 135.5 145.3 135.7 154.2 134.8 C163.0 133.9 173.0 131.7 181.7 129.3 C190.4 126.8 198.6 123.9 206.3 120.1 C213.9 116.2 221.1 111.3 227.5 106.1 C234.0 100.9 240.2 94.8 244.8 88.9 C249.4 83.0 252.6 77.3 255.1 70.6 C257.6 63.8 259.2 56.2 259.8 48.5 C260.5 40.9 256.5 31.1 259.1 24.7 C261.7 18.3 282.3 13.7 275.3 10.0 C268.2 6.3 238.6 -3.5 216.5 2.7 C194.5 8.8 161.5 33.2 143.1 46.7 C124.8 60.2 118.7 71.2 106.4 83.4 C94.2 95.6 72.5 113.2 69.8 120.1 C67.0 126.9 83.8 122.8 89.9 124.5Z" fill="#c8d6f6"/>
<path d="M95.4 118.6 C102.5 119.4 105.8 122.7 112.0 124.5 C118.1 126.3 124.8 128.7 132.1 129.6 C139.5 130.6 147.4 131.2 156.0 130.4 C164.6 129.6 174.9 127.3 183.5 124.9 C192.1 122.4 200.0 119.5 207.4 115.7 C214.7 111.8 221.6 106.8 227.5 101.7 C233.5 96.7 238.8 90.7 243.0 85.2 C247.1 79.7 250.2 75.1 252.5 68.7 C254.8 62.3 256.4 54.0 256.9 46.7 C257.4 39.4 252.4 30.8 255.4 24.7 C258.5 18.6 281.7 13.7 275.3 10.0 C268.8 6.3 238.6 -3.5 216.5 2.7 C194.5 8.8 161.5 33.2 143.1 46.7 C124.8 60.2 118.7 71.2 106.4 83.4 C94.2 95.6 71.6 114.2 69.8 120.1 C67.9 126.0 88.4 117.9 95.4 118.6Z" fill="#e0e8fa"/>
<path d="M102.8 112.0 C111.0 111.8 113.5 116.5 119.3 118.6 C125.1 120.7 131.2 123.3 137.6 124.5 C144.1 125.7 150.2 126.3 157.8 125.6 C165.5 124.9 175.3 122.5 183.5 120.1 C191.8 117.6 200.1 114.7 207.4 110.9 C214.6 107.1 221.3 102.2 226.8 97.3 C232.3 92.4 236.7 86.9 240.4 81.6 C244.1 76.2 246.7 70.9 248.8 65.0 C251.0 59.2 252.8 53.4 253.2 46.7 C253.7 40.0 247.7 30.8 251.4 24.7 C255.1 18.6 281.1 13.7 275.3 10.0 C269.4 6.3 238.6 -3.5 216.5 2.7 C194.5 8.8 161.5 33.2 143.1 46.7 C124.8 60.2 118.7 71.2 106.4 83.4 C94.2 95.6 70.4 115.3 69.8 120.1 C69.1 124.9 94.5 112.3 102.8 112.0Z" fill="#ffffff"/>
<path d="M137.6 80.5 C140.4 76.5 154.5 72.0 161.5 68.7 C168.5 65.4 173.7 62.9 179.8 60.6 C186.0 58.4 190.9 56.7 198.2 55.1 C205.5 53.5 215.8 51.5 223.9 51.1 C232.0 50.7 241.6 50.6 246.6 52.6 C251.6 54.6 254.0 57.8 254.0 63.2 C254.0 68.7 250.3 78.8 246.6 85.2 C243.0 91.7 237.5 97.4 232.0 101.7 C226.4 106.1 220.5 109.0 213.6 111.3 C206.8 113.5 197.8 115.2 190.9 115.3 C183.9 115.4 177.0 114.3 171.8 112.0 C166.6 109.8 164.1 105.0 159.7 101.7 C155.2 98.5 148.6 96.1 145.0 92.6 C141.3 89.0 134.9 84.4 137.6 80.5Z" fill="#f6d6d8"/>
<path d="M172.5 44.9 C175.2 41.1 187.2 35.6 194.5 32.8 C201.9 29.9 209.2 28.8 216.5 27.6 C223.9 26.4 232.1 25.0 238.6 25.4 C245.0 25.8 253.1 27.7 255.1 30.2 C257.0 32.6 254.9 37.8 250.3 40.1 C245.7 42.4 234.4 42.7 227.5 43.8 C220.7 44.9 215.3 45.4 209.2 46.7 C203.1 48.0 196.0 50.4 190.9 51.8 C185.7 53.3 181.4 56.7 178.4 55.5 C175.3 54.3 169.8 48.7 172.5 44.9Z" fill="#f6d6d8"/>
<path d="M203.7 32.0 C207.1 30.1 224.1 27.6 231.2 27.2 C238.4 26.9 246.0 28.7 246.6 30.2 C247.2 31.7 240.8 35.0 234.9 36.4 C229.0 37.8 216.2 39.4 211.0 38.6 C205.8 37.9 200.3 33.9 203.7 32.0Z" fill="#f3bdbe"/>
<path d="M150.5 81.6 C152.3 79.1 162.1 75.0 168.8 73.1 C175.6 71.3 186.9 69.4 190.9 70.6 C194.8 71.7 195.1 77.3 192.7 79.7 C190.2 82.2 182.0 83.9 176.2 85.2 C170.4 86.6 162.1 88.4 157.8 87.8 C153.5 87.2 148.6 84.0 150.5 81.6Z" fill="#f3bdbe"/>
<path d="M212.9 85.2 C213.8 82.7 224.2 79.1 227.5 79.7 C230.9 80.3 234.0 86.3 233.1 88.9 C232.1 91.5 225.4 95.7 222.0 95.1 C218.7 94.5 212.0 87.8 212.9 85.2Z" fill="#f3bdbe"/>
<path d="M117.5 88.9 C119.3 86.9 127.9 84.8 132.1 85.2 C136.4 85.7 142.5 89.3 143.1 91.5 C143.8 93.6 139.5 97.1 135.8 98.1 C132.1 99.1 124.2 98.9 121.1 97.3 C118.1 95.8 115.6 90.9 117.5 88.9Z" fill="#dee6fa"/>
</g>
<path d="M135.2 77.5 L132.0 77.1 L131.6 76.1 L132.9 74.8 L129.7 72.9 L127.4 70.6 L127.0 67.4 L128.8 65.1 L132.0 63.8 L135.7 63.8 L138.0 61.9 L138.9 59.2 L140.7 61.0 L142.6 63.8 L143.5 66.5 L142.1 69.7 L140.3 72.9 L139.4 75.2 L139.8 77.1 L138.4 78.0Z" fill="#fff"/>
<path d="M162.1 68.5 L161.6 61.9 L159.9 58.5 L161.0 55.2 L163.8 54.1 L164.3 50.8 L166.5 48.1 L170.4 47.0 L172.0 49.2 L173.7 48.1 L175.3 48.6 L177.0 45.9 L177.5 42.0 L176.4 39.8 L173.7 37.6 L170.9 35.4 L168.7 37.1 L170.4 34.9 L173.1 33.2 L176.4 33.2 L178.1 34.9 L179.2 37.1 L180.8 37.6 L183.0 35.4 L182.0 36.5 L178.6 42.0 L172.0 55.2 L163.2 69.6Z" fill="#fff"/>
<path d="M116 223.4 L126.5 5.6 M39.35 147.5 Q150 148.5 268.5 154.6" stroke="#c8c8c8" stroke-width="0.6" opacity="0.4" fill="none" clip-path="url(#oc)"/>
<path d="M138.4 223.6 L136.0 216.0 L133.5 207.8 L131.8 202.0 L128.5 197.9 L122.7 194.6 L116.1 191.3 L109.5 189.6 L105.9 188.8 L104.6 191.3 L103.3 187.2 L100.5 185.5 L95.5 182.2 L90.5 178.1 L87.2 173.9 L86.4 169.8 L88.1 167.3 L84.8 166.2 L82.3 167.8 L79.0 166.5 L76.5 167.8 L74.9 166.5 L72.4 165.7 L71.2 167.3 L70.2 162.4 L69.9 156.6 L70.9 152.8 L72.8 146.4 L76.7 142.5 L80.5 142.5 L82.5 138.7 L83.8 133.5 L86.3 128.4 L90.2 125.2 L94.0 122.0 L96.0 116.8 L97.9 111.7 L99.2 107.2 L101.1 107.8 L104.3 105.3 L106.2 107.8 L108.8 104.0 L111.4 105.3 L113.3 102.7 L115.2 103.3 L116.9 99.5 L118.7 96.8 L120.6 97.7 L122.4 95.9 L123.3 93.1 L124.2 89.4 L126.5 86.7 L130.2 84.9 L133.9 83.5 L137.1 82.1 L139.4 79.8 L138.4 78.0 L135.2 77.5 L132.0 77.1 L131.6 76.1 L132.9 74.8 L129.7 72.9 L127.4 70.6 L127.0 67.4 L128.8 65.1 L132.0 63.8 L135.7 63.8 L138.0 61.9 L138.9 59.2 L140.7 61.0 L142.6 63.8 L143.5 66.5 L142.1 69.7 L140.3 72.9 L139.4 75.2 L139.8 77.1 L141.7 76.1 L144.9 75.2 L148.5 73.4 L152.2 72.5 L155.9 72.0 L160.0 70.6 L162.1 68.5 L161.6 61.9 L159.9 58.5 L161.0 55.2 L163.8 54.1 L164.3 50.8 L166.5 48.1 L170.4 47.0 L172.0 49.2 L173.7 48.1 L175.3 48.6 L177.0 45.9 L177.5 42.0 L176.4 39.8 L173.7 37.6 L170.9 35.4 L168.7 37.1 L170.4 34.9 L173.1 33.2 L176.4 33.2 L178.1 34.9 L179.2 37.1 L180.8 37.6 L183.0 35.4 L182.5 33.8 L184.1 34.3 L186.3 34.9 L188.5 33.2 L194.0 31.0 L199.6 29.4 L205.0 26.3 L207.6 24.4 L209.5 21.2 L210.8 23.1 L212.7 21.8 L214.6 21.2 L212.1 24.4 L216.6 24.4 L217.2 26.3 L218.5 23.8 L221.7 21.8 L225.5 19.3 L228.1 16.7 L232.0 15.4 L235.2 12.8 L235.8 10.3 L237.8 9.6 L239.0 11.6 L240.3 16.1 L242.2 15.4 L246.1 12.8 L248.0 10.3 L249.3 7.7 L250.0 9.6 L248.7 12.2 L250.0 14.1 L251.2 16.7 L253.2 17.3 L250.6 18.0 L250.0 19.3 L251.9 20.5 L255.7 21.8 L260.2 20.5 L263.4 18.0 L266.0 15.4 L268.6 14.5" fill="none" stroke="#000" stroke-width="1.75" stroke-linejoin="round"/>
<path d="M134.9 69.5 L135.9 75.5" fill="none" stroke="#f80a12" stroke-width="1.2" stroke-linejoin="round" stroke-linecap="round"/>
<path d="M139.2 70.0 L139.6 75.5" fill="none" stroke="#f80a12" stroke-width="1.2" stroke-linejoin="round" stroke-linecap="round"/>
<path d="M136.3 68.0 L137.7 77.0" fill="none" stroke="#0a14f0" stroke-width="3.0" stroke-linejoin="round" stroke-linecap="round"/>
<path d="M128.2 87.5 L128.8 96.0" fill="none" stroke="#f80a12" stroke-width="3.4" stroke-linejoin="round" stroke-linecap="round"/>
<path d="M130.9 93.0 L131.1 96.3" fill="none" stroke="#0a14f0" stroke-width="2.6" stroke-linejoin="round" stroke-linecap="round"/>
<circle cx="131" cy="97" r="0.9" fill="#000"/>
<path d="M124.0 91.0 L124.0 94.0" fill="none" stroke="#0a14f0" stroke-width="1.4" stroke-linejoin="round" stroke-linecap="round"/>
<path d="M267.0 17.5 C267.0 22.5 267.4 40.6 267.0 47.5 C266.6 54.4 266.0 54.2 264.5 58.8 C263.0 63.3 260.5 69.8 258.2 75.0 C256.0 80.2 253.7 85.4 250.8 90.0 C247.8 94.6 244.1 98.8 240.8 102.5 C237.4 106.2 234.1 109.1 230.8 112.0 C227.4 114.9 224.1 117.5 220.8 120.0 C217.4 122.5 214.5 124.7 210.8 127.0 C207.0 129.3 202.4 131.8 198.2 133.8 C194.1 135.7 189.9 137.2 185.8 138.8 C181.6 140.3 177.4 141.8 173.2 143.0 C169.1 144.2 164.9 145.0 160.8 145.8 C156.6 146.5 151.8 146.9 148.2 147.2 C144.8 147.6 142.8 148.0 139.8 148.0 C136.7 148.0 133.1 147.9 129.8 147.5 C126.4 147.1 123.1 146.5 119.8 145.8 C116.4 145.0 113.1 144.2 109.8 143.0 C106.4 141.8 102.2 140.3 99.8 138.8 C97.2 137.2 96.9 135.2 94.8 133.8 C92.6 132.3 88.1 130.6 86.8 130.0" fill="none" stroke="#f80a12" stroke-width="2.2" stroke-linejoin="round" stroke-linecap="round"/>
<path d="M163.8 69.0 C165.2 67.0 169.9 60.1 172.0 57.0 C174.1 53.9 175.8 51.5 176.6 50.4" fill="none" stroke="#f80a12" stroke-width="1.6" stroke-linejoin="round" stroke-linecap="round"/>
<path d="M268.2 15.0 C268.2 20.0 267.8 31.2 267.8 45.0 C267.7 58.8 268.5 87.5 267.8 97.5 C267.0 107.5 265.2 102.1 263.2 105.0 C261.2 107.9 258.7 111.2 255.8 115.0 C252.8 118.8 249.1 123.5 245.8 127.5 C242.4 131.5 239.5 134.8 235.8 138.8 C232.0 142.7 227.4 147.3 223.2 151.2 C219.1 155.2 214.9 159.0 210.8 162.5 C206.6 166.0 202.4 169.2 198.2 172.5 C194.1 175.8 189.9 179.6 185.8 182.0 C181.6 184.4 177.4 185.8 173.2 187.0 C169.1 188.2 164.5 189.1 160.8 189.2 C157.0 189.4 153.7 189.1 150.8 188.0 C147.8 186.9 145.8 183.8 143.2 182.5 C140.8 181.2 139.2 180.6 135.8 180.5 C132.2 180.4 126.2 181.7 122.2 182.0 C118.3 182.3 115.6 182.8 112.2 182.5 C108.9 182.2 105.2 181.0 102.2 180.5 C99.3 180.0 96.0 179.7 94.8 179.5" fill="none" stroke="#0a14f0" stroke-width="2.2" stroke-linejoin="round" stroke-linecap="round"/>
<path d="M163.2 69.6 C164.7 67.2 169.4 59.8 172.0 55.2 C174.6 50.6 176.9 45.1 178.6 42.0 C180.3 38.9 181.4 37.4 182.0 36.5" fill="none" stroke="#0a14f0" stroke-width="2.2" stroke-linejoin="round" stroke-linecap="round"/>
<path d="M87.2 167.5 L79.8 165.5 L71.0 163.0" fill="none" stroke="#0a14f0" stroke-width="2.2" stroke-linejoin="round" stroke-linecap="round"/>
<ellipse cx="195.8" cy="138" rx="3.7" ry="2.3" fill="none" stroke="#f80a12" stroke-width="1.8" transform="rotate(-22 195.8 138)"/>
<path d="M33.85 38.8 H39.35 M33.85 75.0 H39.35 M33.85 111.2 H39.35 M33.85 147.5 H39.35 M33.85 183.8 H39.35 M33.85 220.0 H39.35 M55.9 223.4 V228.9 M85.9 223.4 V228.9 M116.0 223.4 V228.9 M146.0 223.4 V228.9 M176.0 223.4 V228.9 M206.1 223.4 V228.9 M236.1 223.4 V228.9 M266.1 223.4 V228.9" stroke="#111" stroke-width="1.2" fill="none"/>
<rect x="39.35" y="5.6" width="229.15" height="217.8" fill="none" stroke="#1a1a1a" stroke-width="1.3"/>
<text x="3.0" y="79.1" textLength="24" lengthAdjust="spacingAndGlyphs" class="tk">36°N</text>
<text x="3.0" y="151.6" textLength="24" lengthAdjust="spacingAndGlyphs" class="tk">35°N</text>
<text x="3.0" y="224.1" textLength="24" lengthAdjust="spacingAndGlyphs" class="tk">34°N</text>
<text x="41.4" y="244.7" textLength="28.2" lengthAdjust="spacingAndGlyphs" class="tk">119°E</text>
<text x="101.5" y="244.7" textLength="28.2" lengthAdjust="spacingAndGlyphs" class="tk">120°E</text>
<text x="161.5" y="244.7" textLength="28.2" lengthAdjust="spacingAndGlyphs" class="tk">121°E</text>
<text x="221.6" y="244.7" textLength="28.2" lengthAdjust="spacingAndGlyphs" class="tk">122°E</text>
<rect x="44.6" y="10.6" width="21.8" height="20.2" fill="#fff" stroke="#444" stroke-width="0.9"/>
<text x="48.6" y="23.5" textLength="13.6" lengthAdjust="spacingAndGlyphs" class="lb">(b)</text>
<rect x="74.35" y="13.2" width="121.9" height="13.9" fill="#fff"/>
<text x="86.4" y="23.8" textLength="100.0" lengthAdjust="spacingAndGlyphs" style="font-size:12px" class="tt">1800 LST 02 Apr</text>
</g>
<g transform="translate(0,244.3)">
<rect x="39.35" y="5.6" width="229.15" height="217.8" fill="#cbcbcb"/>
<path d="M138.4 223.6 L136.0 216.0 L133.5 207.8 L131.8 202.0 L128.5 197.9 L122.7 194.6 L116.1 191.3 L109.5 189.6 L105.9 188.8 L104.6 191.3 L103.3 187.2 L100.5 185.5 L95.5 182.2 L90.5 178.1 L87.2 173.9 L86.4 169.8 L88.1 167.3 L84.8 166.2 L82.3 167.8 L79.0 166.5 L76.5 167.8 L74.9 166.5 L72.4 165.7 L71.2 167.3 L70.2 162.4 L69.9 156.6 L70.9 152.8 L72.8 146.4 L76.7 142.5 L80.5 142.5 L82.5 138.7 L83.8 133.5 L86.3 128.4 L90.2 125.2 L94.0 122.0 L96.0 116.8 L97.9 111.7 L99.2 107.2 L101.1 107.8 L104.3 105.3 L106.2 107.8 L108.8 104.0 L111.4 105.3 L113.3 102.7 L115.2 103.3 L116.9 99.5 L118.7 96.8 L120.6 97.7 L122.4 95.9 L123.3 93.1 L124.2 89.4 L126.5 86.7 L130.2 84.9 L133.9 83.5 L137.1 82.1 L139.4 79.8 L138.4 78.0 L135.2 77.5 L132.0 77.1 L131.6 76.1 L132.9 74.8 L129.7 72.9 L127.4 70.6 L127.0 67.4 L128.8 65.1 L132.0 63.8 L135.7 63.8 L138.0 61.9 L138.9 59.2 L140.7 61.0 L142.6 63.8 L143.5 66.5 L142.1 69.7 L140.3 72.9 L139.4 75.2 L139.8 77.1 L141.7 76.1 L144.9 75.2 L148.5 73.4 L152.2 72.5 L155.9 72.0 L160.0 70.6 L162.1 68.5 L161.6 61.9 L159.9 58.5 L161.0 55.2 L163.8 54.1 L164.3 50.8 L166.5 48.1 L170.4 47.0 L172.0 49.2 L173.7 48.1 L175.3 48.6 L177.0 45.9 L177.5 42.0 L176.4 39.8 L173.7 37.6 L170.9 35.4 L168.7 37.1 L170.4 34.9 L173.1 33.2 L176.4 33.2 L178.1 34.9 L179.2 37.1 L180.8 37.6 L183.0 35.4 L182.5 33.8 L184.1 34.3 L186.3 34.9 L188.5 33.2 L194.0 31.0 L199.6 29.4 L205.0 26.3 L207.6 24.4 L209.5 21.2 L210.8 23.1 L212.7 21.8 L214.6 21.2 L212.1 24.4 L216.6 24.4 L217.2 26.3 L218.5 23.8 L221.7 21.8 L225.5 19.3 L228.1 16.7 L232.0 15.4 L235.2 12.8 L235.8 10.3 L237.8 9.6 L239.0 11.6 L240.3 16.1 L242.2 15.4 L246.1 12.8 L248.0 10.3 L249.3 7.7 L250.0 9.6 L248.7 12.2 L250.0 14.1 L251.2 16.7 L253.2 17.3 L250.6 18.0 L250.0 19.3 L251.9 20.5 L255.7 21.8 L260.2 20.5 L263.4 18.0 L266.0 15.4 L268.6 14.5 L268.5 223.4 L138.8 223.4Z" fill="#fff"/>
<g clip-path="url(#oc)">
<g clip-path="url(#occ)">
<path d="M94.4 120.8 C95.9 118.4 99.5 126.7 103.2 128.5 C106.9 130.2 112.4 131.2 116.4 131.3 C120.5 131.5 123.4 130.6 127.4 129.6 C131.5 128.5 135.9 126.5 140.7 125.2 C145.4 123.9 150.6 123.2 156.1 121.9 C161.6 120.6 168.2 118.1 173.7 117.5 C179.2 116.8 185.8 115.7 189.1 118.1 C192.4 120.5 195.4 127.3 193.5 131.8 C191.7 136.3 184.3 140.6 178.1 145.0 C171.9 149.4 163.4 155.6 156.1 158.2 C148.7 160.8 141.4 161.1 134.1 160.4 C126.7 159.7 118.6 156.7 112.0 153.8 C105.4 150.9 97.3 148.3 94.4 142.8 C91.5 137.3 92.9 123.2 94.4 120.8Z" fill="#e0e8fa"/>
<path d="M96.6 134.0 C98.4 132.5 103.2 134.0 107.6 134.4 C112.0 134.9 116.8 136.1 123.0 136.6 C129.3 137.1 137.7 138.4 145.1 137.3 C152.4 136.2 160.5 132.5 167.1 130.0 C173.7 127.6 181.2 122.2 184.7 122.5 C188.2 122.8 189.1 128.6 188.0 131.8 C186.9 135.0 183.4 138.6 178.1 141.7 C172.8 144.8 163.4 148.8 156.1 150.5 C148.7 152.2 141.4 152.6 134.1 152.0 C126.7 151.5 118.3 148.7 112.0 147.2 C105.8 145.7 99.2 145.4 96.6 143.2 C94.0 141.0 94.8 135.5 96.6 134.0Z" fill="#dee6fa"/>
<path d="M96.6 140.1 C99.2 139.9 105.8 141.3 112.0 142.4 C118.3 143.5 126.7 146.2 134.1 146.8 C141.4 147.3 148.7 147.0 156.1 145.4 C163.4 143.9 173.0 140.1 178.1 137.5 C183.2 134.9 185.2 130.6 186.9 130.0 C188.6 129.4 189.9 131.9 188.5 134.0 C187.0 136.1 183.5 139.9 178.1 142.8 C172.7 145.7 163.4 149.5 156.1 151.2 C148.7 152.8 141.4 153.2 134.1 152.7 C126.7 152.2 118.3 149.5 112.0 148.1 C105.8 146.6 99.2 145.4 96.6 144.1 C94.0 142.8 94.0 140.4 96.6 140.1Z" fill="#c8d6f6"/>
<path d="M98.8 146.8 C99.9 146.2 107.6 149.3 112.0 150.5 C116.4 151.7 120.1 153.3 125.2 154.2 C130.4 155.2 137.0 156.4 142.9 156.0 C148.7 155.6 154.6 154.1 160.5 152.0 C166.4 150.0 173.7 146.4 178.1 143.9 C182.5 141.4 186.2 136.4 186.9 137.3 C187.7 138.2 184.7 145.5 182.5 149.4 C180.3 153.3 177.0 156.7 173.7 160.4 C170.4 164.1 166.7 168.9 162.7 171.4 C158.6 174.0 154.2 176.2 149.5 175.8 C144.7 175.5 139.2 171.4 134.1 169.2 C128.9 167.0 123.4 165.2 118.6 162.6 C113.9 160.0 108.7 156.4 105.4 153.8 C102.1 151.2 97.7 147.3 98.8 146.8Z" fill="#a9bef1"/>
<path d="M131.9 157.1 C133.0 156.3 140.3 158.2 145.1 157.8 C149.8 157.3 155.9 155.7 160.5 154.2 C165.1 152.8 170.9 148.7 172.6 149.0 C174.3 149.3 172.2 153.7 170.4 156.0 C168.6 158.3 165.1 161.1 161.6 162.6 C158.1 164.2 153.3 165.3 149.5 165.3 C145.6 165.3 141.4 164.0 138.5 162.6 C135.5 161.3 130.7 157.9 131.9 157.1Z" fill="#8ea9ed"/>
<path d="M127.4 108.7 C129.8 107.4 137.0 109.2 140.7 108.7 C144.3 108.1 146.9 105.5 149.5 105.3 C152.0 105.2 155.7 106.4 156.1 107.6 C156.4 108.7 153.9 110.5 151.7 112.0 C149.5 113.4 145.8 114.9 142.9 116.4 C139.9 117.8 136.6 118.6 134.1 120.8 C131.5 123.0 129.3 128.8 127.4 129.6 C125.6 130.3 123.2 127.4 123.0 125.2 C122.9 123.0 125.6 119.1 126.3 116.4 C127.1 113.6 125.1 109.9 127.4 108.7Z" fill="#dee6fa"/>
<path d="M136.9 86.6 C137.1 84.2 139.7 84.9 142.9 82.9 C146.1 80.9 153.9 87.7 156.1 74.5 C158.3 61.4 137.0 15.8 156.1 4.0 C175.2 -7.7 251.5 -13.6 270.6 4.0 C289.7 21.6 284.1 91.6 270.6 109.8 C257.1 127.9 203.5 111.6 189.6 113.1 C175.6 114.5 189.6 118.0 186.9 118.6 C184.3 119.1 178.8 116.0 173.7 116.4 C168.6 116.7 160.7 119.7 156.1 120.8 C151.5 121.9 147.1 123.5 146.2 123.0 C145.2 122.4 148.9 119.7 150.6 117.5 C152.2 115.3 156.3 112.1 156.1 109.8 C155.9 107.4 151.9 105.2 149.5 103.1 C147.1 101.1 143.9 100.4 141.8 97.6 C139.7 94.9 136.7 89.1 136.9 86.6Z" fill="#f6d6d8"/>
<path d="M115.3 103.1 C116.9 101.4 120.2 101.2 123.0 101.6 C125.9 102.0 131.3 102.9 132.3 105.3 C133.3 107.8 130.7 113.1 129.2 116.4 C127.7 119.7 124.1 122.6 123.5 125.2 C122.9 127.7 126.3 130.2 125.7 131.8 C125.1 133.3 121.2 135.9 119.7 134.4 C118.3 133.0 117.9 126.7 116.9 123.0 C115.9 119.2 114.0 115.3 113.8 112.0 C113.5 108.7 113.8 104.9 115.3 103.1Z" fill="#f6d6d8"/>
<path d="M96.2 124.7 C96.7 123.4 99.8 122.5 101.0 123.6 C102.2 124.8 102.3 129.3 103.2 131.8 C104.2 134.2 107.0 137.0 106.7 138.4 C106.4 139.8 102.9 141.3 101.5 140.1 C100.0 139.0 98.8 134.3 97.9 131.8 C97.0 129.2 95.7 126.1 96.2 124.7Z" fill="#f6d6d8"/>
<path d="M104.1 108.0 C104.4 105.8 106.1 103.5 109.6 101.4 C113.1 99.4 120.3 98.7 125.0 95.9 C129.8 93.2 133.9 87.4 137.9 84.9 C141.9 82.5 146.0 80.6 148.9 81.3 C151.8 81.9 155.0 85.2 155.1 88.6 C155.3 92.0 152.2 98.2 149.6 101.4 C147.1 104.7 143.8 106.7 139.7 108.0 C135.6 109.4 129.2 109.5 125.0 109.5 C120.9 109.5 117.6 107.1 114.8 108.0 C112.0 109.0 109.9 115.0 108.2 115.0 C106.4 115.0 103.9 110.3 104.1 108.0Z" fill="#f6d6d8"/>
<path d="M125.0 104.4 C126.6 103.0 134.5 101.2 137.9 101.4 C141.3 101.7 144.9 104.5 145.2 105.8 C145.5 107.2 142.5 108.9 139.7 109.5 C137.0 110.1 131.2 110.4 128.7 109.5 C126.3 108.7 123.5 105.7 125.0 104.4Z" fill="#fdf6f6"/>
<path d="M189.2 58.6 C190.1 57.0 197.1 55.3 200.2 55.9 C203.3 56.6 207.2 59.9 207.7 62.5 C208.2 65.2 205.1 69.1 203.3 71.8 C201.5 74.5 198.4 78.8 196.7 78.8 C195.0 78.8 193.4 74.1 193.2 71.8 C192.9 69.5 195.8 67.4 195.2 65.2 C194.5 63.0 188.4 60.1 189.2 58.6Z" fill="#f5d3d5"/>
<path d="M183.0 29.9 C183.8 28.1 190.0 27.0 191.9 27.7 C193.7 28.5 194.8 32.5 194.1 34.3 C193.3 36.2 189.3 39.5 187.4 38.7 C185.6 38.0 182.3 31.8 183.0 29.9Z" fill="#f5d3d5"/>
<path d="M200.2 34.3 C200.7 33.9 202.9 33.8 203.5 34.1 C204.1 34.4 204.3 35.9 203.7 36.3 C203.2 36.7 201.0 36.9 200.4 36.5 C199.9 36.2 199.7 34.7 200.2 34.3Z" fill="#fdf6f6"/>
<path d="M197.8 49.1 C198.3 48.7 200.7 48.5 201.3 48.9 C201.9 49.2 202.1 50.9 201.5 51.3 C201.0 51.7 198.6 51.9 198.0 51.5 C197.4 51.1 197.2 49.5 197.8 49.1Z" fill="#fdf6f6"/>
<path d="M174.7 77.9 C175.3 76.7 178.2 75.7 179.3 76.2 C180.4 76.6 181.5 79.2 181.5 80.6 C181.5 81.9 180.1 83.8 179.1 84.3 C178.0 84.8 176.1 84.7 175.3 83.7 C174.6 82.6 174.0 79.2 174.7 77.9Z" fill="#fdf6f6"/>
<path d="M185.7 84.3 C186.1 83.9 187.9 83.7 188.3 84.1 C188.8 84.5 188.7 86.1 188.3 86.5 C187.9 87.0 186.3 87.1 185.9 86.8 C185.5 86.4 185.3 84.8 185.7 84.3Z" fill="#fdf6f6"/>
<path d="M137.4 79.4 C138.9 78.5 144.1 78.2 147.3 78.5 C150.4 78.8 155.0 80.2 156.1 81.1 C157.2 82.0 155.7 83.5 153.9 83.8 C152.0 84.0 147.7 82.5 145.1 82.4 C142.4 82.4 139.3 83.8 138.0 83.3 C136.7 82.8 135.8 80.2 137.4 79.4Z" fill="#c8d6f6"/>
<path d="M163.8 69.0 L172.0 57.0 L176.6 50.4 L179.0 49.0 L180.8 44.4 L184.1 39.4 L188.5 35.0 L193.0 33.0 L191.0 42.0 L189.0 47.5 L184.0 52.0 L176.0 58.5 L168.0 64.5Z" fill="#fdf3f3"/>
<g clip-path="url(#crl)">
<rect x="190" y="0" width="90" height="130" fill="#f6d6d8"/>
<path d="M255.7 21.6 C258.0 19.2 264.2 15.7 266.1 17.8 C267.9 19.9 267.0 29.7 266.7 34.3 C266.5 38.9 265.5 42.2 264.5 45.3 C263.6 48.5 262.7 50.5 261.2 53.1 C259.8 55.6 257.2 58.0 255.7 60.8 C254.3 63.5 253.5 66.3 252.4 69.6 C251.3 72.9 250.8 76.8 249.1 80.6 C247.5 84.3 245.1 89.1 242.5 92.0 C239.9 95.0 236.3 96.8 233.7 98.2 C231.1 99.6 228.6 100.8 227.1 100.4 C225.6 100.0 224.7 98.2 224.9 96.0 C225.0 93.8 226.5 90.1 228.0 87.2 C229.4 84.3 232.0 81.7 233.7 78.4 C235.4 75.1 236.5 71.4 238.1 67.4 C239.7 63.3 241.6 58.2 243.4 54.2 C245.2 50.1 247.1 46.8 248.7 43.1 C250.2 39.5 251.5 35.7 252.6 32.1 C253.8 28.5 253.5 23.9 255.7 21.6Z" fill="#fff"/>
<path d="M264.8 18.9 C265.3 15.6 267.3 15.6 267.8 18.9 C268.4 22.2 268.4 35.4 267.8 38.7 C267.3 42.0 265.3 42.0 264.8 38.7 C264.2 35.4 264.2 22.2 264.8 18.9Z" fill="#dee6fa"/>
<path d="M238.8 11.9 C238.5 13.8 238.8 19.7 237.5 23.2 C236.2 26.7 233.1 30.1 231.2 33.2 C229.4 36.3 227.5 39.0 226.2 41.9 C225.0 44.9 224.2 47.6 223.8 50.7 C223.3 53.8 223.5 56.9 223.8 60.7 C224.0 64.4 225.0 69.4 225.0 73.2 C225.0 76.9 224.2 79.9 223.8 83.2 C223.3 86.5 222.7 90.7 222.5 93.2 C222.3 95.7 222.5 97.4 222.5 98.2" fill="none" stroke="#f5d3d5" stroke-width="29" stroke-linejoin="round"/>
<path d="M238.8 11.9 C238.5 13.8 238.8 19.7 237.5 23.2 C236.2 26.7 233.1 30.1 231.2 33.2 C229.4 36.3 227.5 39.0 226.2 41.9 C225.0 44.9 224.2 47.6 223.8 50.7 C223.3 53.8 223.5 56.9 223.8 60.7 C224.0 64.4 225.0 69.4 225.0 73.2 C225.0 76.9 224.2 79.9 223.8 83.2 C223.3 86.5 222.7 90.7 222.5 93.2 C222.3 95.7 222.5 97.4 222.5 98.2" fill="none" stroke="#f3bdbe" stroke-width="21" stroke-linejoin="round"/>
<path d="M238.8 11.9 C238.5 13.8 238.8 19.7 237.5 23.2 C236.2 26.7 233.1 30.1 231.2 33.2 C229.4 36.3 227.5 39.0 226.2 41.9 C225.0 44.9 224.2 47.6 223.8 50.7 C223.3 53.8 223.5 56.9 223.8 60.7 C224.0 64.4 225.0 69.4 225.0 73.2 C225.0 76.9 224.2 79.9 223.8 83.2 C223.3 86.5 222.7 90.7 222.5 93.2 C222.3 95.7 222.5 97.4 222.5 98.2" fill="none" stroke="#f1adad" stroke-width="12" stroke-linejoin="round"/>
</g>
<path d="M237.5 10.7 C237.1 11.3 237.5 14.0 236.2 15.7 C235.0 17.4 232.3 19.0 230.0 20.7 C227.7 22.4 224.8 23.6 222.5 25.7 C220.2 27.8 217.9 30.7 216.2 33.2 C214.6 35.7 213.5 37.8 212.5 40.7 C211.5 43.6 210.4 47.4 210.0 50.7 C209.6 54.0 210.4 57.6 210.0 60.7 C209.6 63.8 209.0 66.9 207.5 69.4 C206.0 71.9 202.9 73.4 201.2 75.7 C199.6 78.0 198.3 80.5 197.5 83.2 C196.7 85.9 196.0 89.2 196.2 91.9 C196.5 94.7 197.7 96.7 198.8 99.4 C199.8 102.2 202.5 106.1 202.5 108.2 C202.5 110.3 200.6 110.7 198.8 111.9 C196.9 113.2 192.9 113.4 191.2 115.7 C189.6 118.0 189.4 122.9 188.8 125.7 C188.1 128.5 187.5 130.8 187.5 132.7 C187.5 134.6 187.1 137.0 188.8 137.0 C190.4 137.0 194.2 134.5 197.5 132.5 C200.8 130.5 205.4 127.7 208.8 125.0 C212.1 122.3 215.0 119.2 217.5 116.2 C220.0 113.3 222.1 110.0 223.8 107.5 C225.4 105.0 226.9 102.6 227.5 101.5 C228.1 100.4 228.3 101.2 227.5 100.7 C226.7 100.1 223.3 99.4 222.5 98.2 C221.7 96.9 222.3 95.7 222.5 93.2 C222.7 90.7 223.3 86.5 223.8 83.2 C224.2 79.9 225.0 76.9 225.0 73.2 C225.0 69.4 224.0 64.4 223.8 60.7 C223.5 56.9 223.3 53.8 223.8 50.7 C224.2 47.6 225.0 44.9 226.2 41.9 C227.5 39.0 229.4 36.3 231.2 33.2 C233.1 30.1 236.2 26.7 237.5 23.2 C238.8 19.7 238.8 14.0 238.8 11.9 C238.8 9.9 237.9 10.1 237.5 10.7Z" fill="#ee9b9b"/>
<path d="M187.8 128.5 C188.8 125.8 189.1 124.2 190.5 123.0 C191.9 121.8 195.4 120.5 196.0 121.5 C196.6 122.5 195.1 126.8 194.0 129.0 C192.9 131.2 191.0 133.3 189.5 135.0 C188.0 136.7 185.1 140.1 184.8 139.0 C184.5 137.9 186.9 131.2 187.8 128.5Z" fill="#f3bdbe"/>
</g>
</g>
<path d="M135.2 77.5 L132.0 77.1 L131.6 76.1 L132.9 74.8 L129.7 72.9 L127.4 70.6 L127.0 67.4 L128.8 65.1 L132.0 63.8 L135.7 63.8 L138.0 61.9 L138.9 59.2 L140.7 61.0 L142.6 63.8 L143.5 66.5 L142.1 69.7 L140.3 72.9 L139.4 75.2 L139.8 77.1 L138.4 78.0Z" fill="#fff"/>
<path d="M162.1 68.5 L161.6 61.9 L159.9 58.5 L161.0 55.2 L163.8 54.1 L164.3 50.8 L166.5 48.1 L170.4 47.0 L172.0 49.2 L173.7 48.1 L175.3 48.6 L177.0 45.9 L177.5 42.0 L176.4 39.8 L173.7 37.6 L170.9 35.4 L168.7 37.1 L170.4 34.9 L173.1 33.2 L176.4 33.2 L178.1 34.9 L179.2 37.1 L180.8 37.6 L183.0 35.4 L182.0 36.5 L178.6 42.0 L172.0 55.2 L163.2 69.6Z" fill="#fff"/>
<path d="M116 223.4 L126.5 5.6 M39.35 147.5 Q150 148.5 268.5 154.6" stroke="#c8c8c8" stroke-width="0.6" opacity="0.4" fill="none" clip-path="url(#oc)"/>
<path d="M138.4 223.6 L136.0 216.0 L133.5 207.8 L131.8 202.0 L128.5 197.9 L122.7 194.6 L116.1 191.3 L109.5 189.6 L105.9 188.8 L104.6 191.3 L103.3 187.2 L100.5 185.5 L95.5 182.2 L90.5 178.1 L87.2 173.9 L86.4 169.8 L88.1 167.3 L84.8 166.2 L82.3 167.8 L79.0 166.5 L76.5 167.8 L74.9 166.5 L72.4 165.7 L71.2 167.3 L70.2 162.4 L69.9 156.6 L70.9 152.8 L72.8 146.4 L76.7 142.5 L80.5 142.5 L82.5 138.7 L83.8 133.5 L86.3 128.4 L90.2 125.2 L94.0 122.0 L96.0 116.8 L97.9 111.7 L99.2 107.2 L101.1 107.8 L104.3 105.3 L106.2 107.8 L108.8 104.0 L111.4 105.3 L113.3 102.7 L115.2 103.3 L116.9 99.5 L118.7 96.8 L120.6 97.7 L122.4 95.9 L123.3 93.1 L124.2 89.4 L126.5 86.7 L130.2 84.9 L133.9 83.5 L137.1 82.1 L139.4 79.8 L138.4 78.0 L135.2 77.5 L132.0 77.1 L131.6 76.1 L132.9 74.8 L129.7 72.9 L127.4 70.6 L127.0 67.4 L128.8 65.1 L132.0 63.8 L135.7 63.8 L138.0 61.9 L138.9 59.2 L140.7 61.0 L142.6 63.8 L143.5 66.5 L142.1 69.7 L140.3 72.9 L139.4 75.2 L139.8 77.1 L141.7 76.1 L144.9 75.2 L148.5 73.4 L152.2 72.5 L155.9 72.0 L160.0 70.6 L162.1 68.5 L161.6 61.9 L159.9 58.5 L161.0 55.2 L163.8 54.1 L164.3 50.8 L166.5 48.1 L170.4 47.0 L172.0 49.2 L173.7 48.1 L175.3 48.6 L177.0 45.9 L177.5 42.0 L176.4 39.8 L173.7 37.6 L170.9 35.4 L168.7 37.1 L170.4 34.9 L173.1 33.2 L176.4 33.2 L178.1 34.9 L179.2 37.1 L180.8 37.6 L183.0 35.4 L182.5 33.8 L184.1 34.3 L186.3 34.9 L188.5 33.2 L194.0 31.0 L199.6 29.4 L205.0 26.3 L207.6 24.4 L209.5 21.2 L210.8 23.1 L212.7 21.8 L214.6 21.2 L212.1 24.4 L216.6 24.4 L217.2 26.3 L218.5 23.8 L221.7 21.8 L225.5 19.3 L228.1 16.7 L232.0 15.4 L235.2 12.8 L235.8 10.3 L237.8 9.6 L239.0 11.6 L240.3 16.1 L242.2 15.4 L246.1 12.8 L248.0 10.3 L249.3 7.7 L250.0 9.6 L248.7 12.2 L250.0 14.1 L251.2 16.7 L253.2 17.3 L250.6 18.0 L250.0 19.3 L251.9 20.5 L255.7 21.8 L260.2 20.5 L263.4 18.0 L266.0 15.4 L268.6 14.5" fill="none" stroke="#000" stroke-width="1.75" stroke-linejoin="round"/>
<path d="M127.4 86.9 L128.3 93.7" fill="none" stroke="#f80a12" stroke-width="1.5" stroke-linejoin="round" stroke-linecap="round"/>
<path d="M133.4 86.4 L132.0 94.7" fill="none" stroke="#f80a12" stroke-width="1.5" stroke-linejoin="round" stroke-linecap="round"/>
<path d="M123.8 93.7 L126.5 94.7 L129.7 96.9 L132.9 95.6 L136.6 91.9 L138.0 88.2 L137.1 85.0 L134.8 84.1" fill="none" stroke="#0c6a10" stroke-width="1.7" stroke-linejoin="round" stroke-linecap="round"/>
<circle cx="130.3" cy="96.8" r="1.1" fill="#000"/>
<path d="M137.5 75.9 L139.8 79.1" fill="none" stroke="#0c6a10" stroke-width="1.6" stroke-linejoin="round" stroke-linecap="round"/>
<path d="M267.0 17.0 C267.0 18.3 267.2 21.4 267.2 25.0 C267.2 28.6 267.5 34.5 267.2 38.5 C266.9 42.5 266.3 46.2 265.4 48.8 C264.4 51.4 263.0 52.1 261.5 54.0 C260.0 55.9 257.8 58.3 256.4 60.4 C255.0 62.5 254.0 64.6 253.2 66.8 C252.4 69.0 252.9 70.5 251.5 73.5 C250.1 76.5 247.8 81.0 245.0 85.0 C242.2 89.0 237.9 94.8 235.0 97.5 C232.1 100.2 229.4 99.6 227.5 101.2 C225.6 102.9 225.4 105.0 223.8 107.5 C222.1 110.0 220.0 113.3 217.5 116.2 C215.0 119.2 212.1 122.3 208.8 125.0 C205.4 127.7 201.5 130.1 197.5 132.5 C193.5 134.9 189.2 137.3 185.0 139.5 C180.8 141.7 176.2 144.2 172.5 145.8 C168.8 147.3 165.8 147.7 162.5 148.8 C159.2 149.8 155.4 151.2 152.5 152.2 C149.6 153.3 147.5 154.5 145.0 155.0 C142.5 155.5 140.0 155.5 137.5 155.5 C135.0 155.5 132.2 155.6 130.0 155.2 C127.8 154.8 126.2 153.6 124.2 152.8 C122.2 152.0 119.9 151.0 117.8 150.4 C115.7 149.8 113.8 149.5 111.4 149.2 C109.1 148.9 105.9 149.2 103.7 148.7 C101.5 148.2 99.8 147.4 98.5 146.4 C97.2 145.4 96.4 144.2 96.0 142.5 C95.6 140.8 96.2 138.4 96.0 136.1 C95.8 133.8 95.0 130.7 94.7 128.4 C94.4 126.2 94.5 123.6 94.4 122.6" fill="none" stroke="#f80a12" stroke-width="2.2" stroke-linejoin="round" stroke-linecap="round"/>
<path d="M163.8 69.0 C165.2 67.0 169.9 60.1 172.0 57.0 C174.1 53.9 175.4 51.7 176.6 50.4 C177.8 49.1 178.3 50.0 179.0 49.0 C179.7 48.0 180.0 46.0 180.8 44.4 C181.7 42.8 182.8 41.0 184.1 39.4 C185.4 37.8 187.8 35.7 188.5 35.0" fill="none" stroke="#f80a12" stroke-width="2.2" stroke-linejoin="round" stroke-linecap="round"/>
<path d="M194.7 30.7 L200.1 30.5 L205.5 27.4 L208.1 25.5 L210.0 22.5 L211.3 24.2 L213.2 22.9 L215.1 22.3 L212.6 25.5 L217.1 25.5 L217.7 27.2 L219.0 24.9 L222.2 22.9 L226.0 20.4 L228.6 17.9 L232.5 16.5 L235.7 13.9 L236.3 11.4 L238.3 10.7" fill="none" stroke="#0c6a10" stroke-width="1.8" stroke-linejoin="round" stroke-linecap="round"/>
<path d="M250.0 19.9 L251.9 21.1 L255.7 22.4 L260.2 21.1 L263.4 18.6 L266.0 16.0 L268.6 15.1" fill="none" stroke="#0c6a10" stroke-width="1.6" stroke-linejoin="round" stroke-linecap="round"/>
<path d="M237.5 10.7 C237.3 11.5 237.5 14.0 236.2 15.7 C235.0 17.4 232.3 19.0 230.0 20.7 C227.7 22.4 224.8 23.6 222.5 25.7 C220.2 27.8 217.9 30.7 216.2 33.2 C214.6 35.7 213.5 37.8 212.5 40.7 C211.5 43.6 210.4 47.4 210.0 50.7 C209.6 54.0 210.4 57.6 210.0 60.7 C209.6 63.8 209.0 66.9 207.5 69.4 C206.0 71.9 202.9 73.4 201.2 75.7 C199.6 78.0 198.3 80.5 197.5 83.2 C196.7 85.9 196.0 89.2 196.2 91.9 C196.5 94.7 197.7 96.7 198.8 99.4 C199.8 102.2 202.5 106.1 202.5 108.2 C202.5 110.3 200.6 110.7 198.8 111.9 C196.9 113.2 192.9 113.4 191.2 115.7 C189.6 118.0 189.4 122.9 188.8 125.7 C188.1 128.5 188.3 130.4 187.5 132.7 C186.7 135.0 185.4 136.7 183.8 139.4 C182.1 142.2 179.8 146.1 177.5 149.4 C175.2 152.8 172.5 156.5 170.0 159.4 C167.5 162.4 165.0 164.6 162.5 166.9 C160.0 169.3 157.3 172.2 155.0 173.7 C152.7 175.2 150.8 175.5 148.8 175.7 C146.7 175.9 144.8 175.6 142.5 174.9 C140.2 174.3 137.5 172.9 135.0 171.9 C132.5 171.0 130.4 170.4 127.5 169.4 C124.6 168.5 120.4 167.9 117.5 166.2 C114.6 164.5 112.1 161.6 110.0 159.4 C107.9 157.3 106.7 154.9 105.0 153.2 C103.3 151.5 101.2 150.9 100.0 149.4 C98.8 148.0 97.5 146.7 97.5 144.4 C97.5 142.2 99.8 138.8 100.0 135.7 C100.2 132.6 99.6 128.0 98.8 125.7 C97.9 123.4 95.6 122.6 95.0 121.9" fill="none" stroke="#0c6a10" stroke-width="2.2" stroke-linejoin="round" stroke-linecap="round"/>
<path d="M238.8 11.9 C238.5 13.8 238.8 19.7 237.5 23.2 C236.2 26.7 233.1 30.1 231.2 33.2 C229.4 36.3 227.5 39.0 226.2 41.9 C225.0 44.9 224.2 47.6 223.8 50.7 C223.3 53.8 223.5 56.9 223.8 60.7 C224.0 64.4 225.0 69.4 225.0 73.2 C225.0 76.9 224.2 79.9 223.8 83.2 C223.3 86.5 222.7 90.7 222.5 93.2 C222.3 95.7 221.7 96.9 222.5 98.2 C223.3 99.4 225.0 101.1 227.5 100.7 C230.0 100.3 234.6 97.6 237.5 95.7 C240.4 93.8 242.9 91.9 245.0 89.4 C247.1 86.9 248.5 83.8 250.0 80.7 C251.5 77.6 252.5 74.0 253.8 70.7 C255.0 67.4 255.8 64.0 257.5 60.7 C259.2 57.4 262.3 54.0 263.8 50.7 C265.2 47.4 265.7 44.9 266.2 40.7 C266.8 36.5 266.8 29.7 267.0 25.7 C267.2 21.7 267.4 18.4 267.5 16.9" fill="none" stroke="#0c6a10" stroke-width="2.2" stroke-linejoin="round" stroke-linecap="round"/>
<path d="M163.2 69.3 C164.7 68.4 169.1 65.8 172.0 63.7 C174.9 61.7 178.2 59.2 180.8 57.0 C183.4 54.8 185.8 52.0 187.4 50.4 C189.1 48.8 190.0 48.4 190.7 47.1 C191.4 45.8 191.0 44.4 191.5 42.7 C192.0 41.1 192.9 39.0 193.5 37.2 C194.1 35.4 194.7 32.8 195.2 31.7 C195.7 30.6 196.1 30.8 196.3 30.6" fill="none" stroke="#0c6a10" stroke-width="2.2" stroke-linejoin="round" stroke-linecap="round"/>
<path d="M33.85 38.8 H39.35 M33.85 75.0 H39.35 M33.85 111.2 H39.35 M33.85 147.5 H39.35 M33.85 183.8 H39.35 M33.85 220.0 H39.35 M55.9 223.4 V228.9 M85.9 223.4 V228.9 M116.0 223.4 V228.9 M146.0 223.4 V228.9 M176.0 223.4 V228.9 M206.1 223.4 V228.9 M236.1 223.4 V228.9 M266.1 223.4 V228.9" stroke="#111" stroke-width="1.2" fill="none"/>
<rect x="39.35" y="5.6" width="229.15" height="217.8" fill="none" stroke="#1a1a1a" stroke-width="1.3"/>
<text x="3.0" y="79.1" textLength="24" lengthAdjust="spacingAndGlyphs" class="tk">36°N</text>
<text x="3.0" y="151.6" textLength="24" lengthAdjust="spacingAndGlyphs" class="tk">35°N</text>
<text x="3.0" y="224.1" textLength="24" lengthAdjust="spacingAndGlyphs" class="tk">34°N</text>
<text x="41.4" y="244.7" textLength="28.2" lengthAdjust="spacingAndGlyphs" class="tk">119°E</text>
<text x="101.5" y="244.7" textLength="28.2" lengthAdjust="spacingAndGlyphs" class="tk">120°E</text>
<text x="161.5" y="244.7" textLength="28.2" lengthAdjust="spacingAndGlyphs" class="tk">121°E</text>
<text x="221.6" y="244.7" textLength="28.2" lengthAdjust="spacingAndGlyphs" class="tk">122°E</text>
<rect x="44.6" y="10.6" width="21.8" height="20.2" fill="#fff" stroke="#444" stroke-width="0.9"/>
<text x="48.6" y="23.5" textLength="13.6" lengthAdjust="spacingAndGlyphs" class="lb">(c)</text>
<rect x="71.7" y="13.2" width="117.99999999999999" height="14.7" fill="#fff"/>
<text x="77.6" y="24.3" textLength="105.4" lengthAdjust="spacingAndGlyphs" style="font-size:13.3px" class="tt">1600 LST 02 Apr</text>
</g>
<g transform="translate(270.25,244.3)">
<rect x="39.35" y="5.6" width="229.15" height="217.8" fill="#cbcbcb"/>
<path d="M138.4 223.6 L136.0 216.0 L133.5 207.8 L131.8 202.0 L128.5 197.9 L122.7 194.6 L116.1 191.3 L109.5 189.6 L105.9 188.8 L104.6 191.3 L103.3 187.2 L100.5 185.5 L95.5 182.2 L90.5 178.1 L87.2 173.9 L86.4 169.8 L88.1 167.3 L84.8 166.2 L82.3 167.8 L79.0 166.5 L76.5 167.8 L74.9 166.5 L72.4 165.7 L71.2 167.3 L70.2 162.4 L69.9 156.6 L70.9 152.8 L72.8 146.4 L76.7 142.5 L80.5 142.5 L82.5 138.7 L83.8 133.5 L86.3 128.4 L90.2 125.2 L94.0 122.0 L96.0 116.8 L97.9 111.7 L99.2 107.2 L101.1 107.8 L104.3 105.3 L106.2 107.8 L108.8 104.0 L111.4 105.3 L113.3 102.7 L115.2 103.3 L116.9 99.5 L118.7 96.8 L120.6 97.7 L122.4 95.9 L123.3 93.1 L124.2 89.4 L126.5 86.7 L130.2 84.9 L133.9 83.5 L137.1 82.1 L139.4 79.8 L138.4 78.0 L135.2 77.5 L132.0 77.1 L131.6 76.1 L132.9 74.8 L129.7 72.9 L127.4 70.6 L127.0 67.4 L128.8 65.1 L132.0 63.8 L135.7 63.8 L138.0 61.9 L138.9 59.2 L140.7 61.0 L142.6 63.8 L143.5 66.5 L142.1 69.7 L140.3 72.9 L139.4 75.2 L139.8 77.1 L141.7 76.1 L144.9 75.2 L148.5 73.4 L152.2 72.5 L155.9 72.0 L160.0 70.6 L162.1 68.5 L161.6 61.9 L159.9 58.5 L161.0 55.2 L163.8 54.1 L164.3 50.8 L166.5 48.1 L170.4 47.0 L172.0 49.2 L173.7 48.1 L175.3 48.6 L177.0 45.9 L177.5 42.0 L176.4 39.8 L173.7 37.6 L170.9 35.4 L168.7 37.1 L170.4 34.9 L173.1 33.2 L176.4 33.2 L178.1 34.9 L179.2 37.1 L180.8 37.6 L183.0 35.4 L182.5 33.8 L184.1 34.3 L186.3 34.9 L188.5 33.2 L194.0 31.0 L199.6 29.4 L205.0 26.3 L207.6 24.4 L209.5 21.2 L210.8 23.1 L212.7 21.8 L214.6 21.2 L212.1 24.4 L216.6 24.4 L217.2 26.3 L218.5 23.8 L221.7 21.8 L225.5 19.3 L228.1 16.7 L232.0 15.4 L235.2 12.8 L235.8 10.3 L237.8 9.6 L239.0 11.6 L240.3 16.1 L242.2 15.4 L246.1 12.8 L248.0 10.3 L249.3 7.7 L250.0 9.6 L248.7 12.2 L250.0 14.1 L251.2 16.7 L253.2 17.3 L250.6 18.0 L250.0 19.3 L251.9 20.5 L255.7 21.8 L260.2 20.5 L263.4 18.0 L266.0 15.4 L268.6 14.5 L268.5 223.4 L138.8 223.4Z" fill="#fff"/>
<g clip-path="url(#oc)">
<g clip-path="url(#ocd)">
<rect x="30" y="0" width="250" height="230" fill="#f6d6d8"/>
<path d="M136.7 78.5 C139.8 75.7 149.0 76.8 155.8 77.2 C162.7 77.5 172.3 78.9 177.9 80.7 C183.4 82.4 186.7 84.7 189.3 87.7 C192.0 90.7 193.9 94.9 193.7 98.7 C193.5 102.6 189.1 105.7 188.2 110.9 C187.3 116.0 189.9 125.0 188.2 129.6 C186.5 134.2 183.3 136.2 177.9 138.4 C172.5 140.6 163.2 142.1 155.8 142.8 C148.5 143.5 141.1 143.5 133.8 142.8 C126.5 142.1 117.5 140.2 111.8 138.4 C106.1 136.6 101.1 134.3 99.7 131.8 C98.2 129.3 100.9 125.8 103.0 123.4 C105.0 121.0 108.1 118.9 111.8 117.5 C115.4 116.0 120.9 116.3 125.0 114.6 C129.1 112.9 132.4 110.2 136.4 107.6 C140.5 104.9 146.0 101.3 149.2 98.7 C152.5 96.2 156.6 93.7 155.8 92.1 C155.1 90.6 147.9 89.2 144.8 89.5 C141.7 89.8 138.5 95.7 137.1 93.9 C135.7 92.1 133.5 81.3 136.7 78.5Z" fill="#fff"/>
<path d="M140.4 81.6 C141.5 80.8 148.0 80.7 151.4 81.1 C154.8 81.6 159.9 83.3 160.7 84.2 C161.4 85.1 158.5 86.4 155.8 86.6 C153.2 86.8 147.4 86.4 144.8 85.5 C142.2 84.7 139.3 82.3 140.4 81.6Z" fill="#dee6fa"/>
<path d="M103.0 130.0 C105.2 127.3 108.5 125.2 111.8 123.4 C115.1 121.6 119.1 120.5 122.8 119.0 C126.5 117.5 129.8 116.1 133.8 114.6 C137.8 113.1 142.2 111.3 147.0 110.2 C151.8 109.1 157.3 108.0 162.4 108.0 C167.6 108.0 173.6 108.7 177.9 110.2 C182.2 111.7 186.5 113.2 188.2 116.8 C189.9 120.4 189.9 127.4 188.2 131.8 C186.5 136.1 183.3 140.1 177.9 142.8 C172.5 145.4 163.2 146.8 155.8 147.6 C148.5 148.4 141.1 148.3 133.8 147.6 C126.5 147.0 117.7 145.3 111.8 143.9 C105.9 142.5 100.0 141.8 98.6 139.5 C97.1 137.2 100.8 132.7 103.0 130.0Z" fill="#e0e8fa"/>
<path d="M98.6 136.6 C100.8 135.2 107.4 132.8 111.8 131.8 C116.2 130.8 119.5 130.3 125.0 130.7 C130.5 131.0 138.6 133.4 144.8 134.0 C151.1 134.5 156.9 134.3 162.4 134.0 C167.9 133.6 173.7 132.6 177.9 131.8 C182.0 131.0 185.4 128.4 187.1 129.1 C188.8 129.9 189.7 133.9 188.2 136.2 C186.7 138.5 183.3 140.9 177.9 142.8 C172.5 144.7 163.2 146.8 155.8 147.6 C148.5 148.4 141.1 148.3 133.8 147.6 C126.5 147.0 117.7 145.1 111.8 143.9 C105.9 142.6 100.8 141.4 98.6 140.1 C96.4 138.9 96.4 138.0 98.6 136.6Z" fill="#c8d6f6"/>
<path d="M127.2 117.5 C128.5 116.2 135.6 114.2 140.4 113.1 C145.2 112.0 152.2 110.9 155.8 110.9 C159.5 110.9 163.2 112.0 162.4 113.1 C161.7 114.2 154.4 115.7 151.4 117.5 C148.5 119.2 146.8 121.9 144.8 123.4 C142.8 124.9 139.9 126.7 139.3 126.3 C138.8 125.8 142.6 121.7 141.5 120.8 C140.4 119.8 135.1 121.3 132.7 120.8 C130.3 120.2 125.9 118.7 127.2 117.5Z" fill="#fff"/>
<path d="M94.2 139.5 C96.7 139.2 105.9 143.2 111.8 144.6 C117.7 145.9 123.5 147.0 129.4 147.6 C135.3 148.3 141.1 148.9 147.0 148.5 C152.9 148.2 158.8 146.9 164.6 145.4 C170.5 143.9 178.2 141.1 182.3 139.5 C186.3 137.9 188.1 134.8 188.9 135.7 C189.6 136.7 188.5 142.0 186.7 145.0 C184.8 148.0 181.5 150.5 177.9 153.8 C174.2 157.1 169.0 161.9 164.6 164.8 C160.2 167.8 155.1 170.7 151.4 171.4 C147.8 172.2 146.3 170.7 142.6 169.2 C138.9 167.8 134.5 164.8 129.4 162.6 C124.3 160.4 117.3 158.8 111.8 156.0 C106.3 153.3 99.3 148.8 96.4 146.1 C93.4 143.3 91.6 139.7 94.2 139.5Z" fill="#a9bef1"/>
<path d="M125.0 150.5 C126.1 149.5 136.7 152.2 142.6 152.0 C148.5 151.9 154.5 151.2 160.2 149.8 C165.9 148.5 174.4 143.6 176.8 143.9 C179.1 144.2 176.9 149.0 174.6 151.6 C172.2 154.2 166.7 157.5 162.4 159.3 C158.2 161.1 153.6 162.8 149.2 162.6 C144.8 162.4 140.0 160.2 136.0 158.2 C132.0 156.2 123.9 151.5 125.0 150.5Z" fill="#8ea9ed"/>
<path d="M163.2 69.3 L173.6 62.6 L182.8 58.0 L189.2 52.5 L192.0 45.1 L192.9 38.7 L193.4 32.3 L194.7 30.7 L196.0 28.0 L190.0 30.0 L183.0 35.0 L176.0 44.0 L168.0 58.0 L162.0 68.0Z" fill="#f5cfd0"/>
<path d="M171.8 69.6 C172.1 66.6 179.5 61.7 182.8 58.6 C186.1 55.4 189.6 53.8 191.6 50.9 C193.6 47.9 194.2 44.1 194.9 40.9 C195.6 37.7 193.6 33.9 196.0 31.7 C198.4 29.5 204.8 29.1 209.2 27.7 C213.6 26.3 217.7 25.5 222.4 23.3 C227.2 21.1 234.6 13.0 237.9 14.5 C241.2 16.0 244.8 28.1 242.3 32.1 C239.7 36.2 226.8 34.0 222.4 38.7 C218.0 43.5 219.1 54.2 215.8 60.8 C212.5 67.4 205.8 73.2 202.6 78.4 C199.4 83.6 198.6 91.5 196.4 92.0 C194.2 92.6 192.0 84.3 189.4 81.7 C186.8 79.0 183.5 78.2 180.6 76.2 C177.7 74.2 171.4 72.5 171.8 69.6Z" fill="#f5d3d5"/>
<path d="M187.2 57.5 C187.7 54.5 192.3 52.5 193.8 49.8 C195.3 47.0 195.9 44.0 196.4 40.9 C197.0 37.9 195.0 33.9 197.1 31.7 C199.2 29.5 205.0 29.1 209.2 27.7 C213.4 26.3 217.7 25.5 222.4 23.3 C227.2 21.1 234.6 13.0 237.9 14.5 C241.2 16.0 244.8 28.1 242.3 32.1 C239.7 36.2 226.8 34.0 222.4 38.7 C218.0 43.5 219.1 54.2 215.8 60.8 C212.5 67.4 205.8 73.6 202.6 78.4 C199.5 83.2 198.7 89.4 196.9 89.4 C195.1 89.4 192.7 82.1 191.6 78.4 C190.5 74.7 191.2 70.9 190.5 67.4 C189.8 63.9 186.6 60.4 187.2 57.5Z" fill="#f3bdbe"/>
<path d="M194.9 51.3 C195.9 50.5 200.3 50.2 201.5 50.9 C202.7 51.6 203.0 54.6 202.0 55.5 C200.9 56.3 196.5 56.6 195.3 55.9 C194.2 55.2 193.9 52.1 194.9 51.3Z" fill="#fff"/>
<path d="M200.9 31.7 C199.5 34.6 199.5 40.5 199.3 45.3 C199.2 50.2 200.4 56.4 200.0 60.8 C199.5 65.2 197.8 68.1 196.7 71.8 C195.6 75.5 193.8 79.1 193.4 82.8 C192.9 86.5 193.2 90.5 193.8 93.8 C194.4 97.1 195.6 100.3 197.1 102.6 C198.6 104.9 202.0 105.7 202.6 107.5 C203.2 109.2 202.2 111.4 200.6 113.2 C199.1 115.0 194.8 115.8 193.1 118.3 C191.5 120.8 191.3 125.7 190.7 128.2 C190.1 130.6 190.4 131.0 189.4 132.8 C188.4 134.6 185.7 136.9 184.6 139.2 C183.5 141.5 173.9 145.4 182.8 146.7 C191.7 147.9 222.8 155.5 237.9 146.7 C252.9 137.9 267.2 116.9 273.1 93.8 C279.0 70.7 276.4 22.2 273.1 7.9 C269.8 -6.4 259.1 6.9 253.3 7.9 C247.4 8.9 243.0 11.5 237.9 14.1 C232.7 16.6 227.5 21.0 222.4 23.3 C217.4 25.7 211.1 26.8 207.5 28.2 C203.9 29.6 202.2 28.8 200.9 31.7Z" fill="#f2b1b1"/>
<path d="M218.2 36.9 C217.5 39.8 213.2 39.7 212.0 41.9 C210.8 44.2 210.8 47.8 210.8 50.7 C210.8 53.6 212.4 56.5 212.0 59.4 C211.6 62.4 209.7 65.5 208.2 68.2 C206.8 70.9 204.9 73.0 203.2 75.7 C201.6 78.4 198.9 81.5 198.2 84.4 C197.6 87.4 198.5 90.5 199.5 93.2 C200.5 95.9 203.0 98.2 204.5 100.7 C206.0 103.2 208.9 106.1 208.2 108.2 C207.6 110.3 203.2 111.5 200.8 113.2 C198.2 114.9 194.9 115.7 193.2 118.2 C191.6 120.7 191.4 125.8 190.8 128.2 C190.1 130.6 190.5 130.9 189.5 132.7 C188.5 134.5 185.4 136.3 184.5 139.2 C183.6 142.1 167.2 148.2 184.0 150.0 C200.8 151.8 268.2 175.8 285.0 150.0 C301.8 124.2 296.5 20.8 285.0 -5.0 C273.5 -30.8 227.4 -10.0 216.0 -5.0 C204.6 0.0 216.1 18.0 216.5 25.0 C216.9 32.0 219.0 34.1 218.2 36.9Z" fill="#ee9b9b"/>
<path d="M229.5 43.1 C231.4 40.2 234.6 38.4 237.9 36.5 C241.1 34.7 245.5 32.5 248.9 32.1 C252.2 31.8 256.9 31.8 258.1 34.3 C259.3 36.9 256.7 43.5 255.9 47.6 C255.1 51.6 254.8 54.8 253.3 58.6 C251.7 62.3 248.9 67.4 246.7 70.0 C244.5 72.7 242.6 74.1 240.1 74.4 C237.5 74.7 233.2 73.7 231.2 71.8 C229.3 69.9 229.0 65.9 228.2 63.0 C227.3 60.0 226.0 57.5 226.2 54.2 C226.4 50.9 227.5 46.1 229.5 43.1Z" fill="#f2b4b4"/>
<path d="M233.5 47.6 C234.9 45.2 237.5 42.6 240.1 40.9 C242.6 39.3 246.7 37.6 248.9 37.6 C251.1 37.6 253.1 38.4 253.3 40.9 C253.5 43.5 251.4 49.3 250.0 53.1 C248.5 56.8 246.5 60.8 244.5 63.4 C242.4 66.0 239.8 68.4 237.9 68.5 C235.9 68.6 234.1 66.3 233.0 64.1 C231.9 61.9 231.2 58.0 231.2 55.3 C231.3 52.5 232.0 49.9 233.5 47.6Z" fill="#f3bdbe"/>
<path d="M194.5 120.7 C195.7 121.3 198.9 125.3 198.6 128.2 C198.4 131.0 195.0 134.8 192.7 137.9 C190.4 140.9 187.0 145.8 185.0 146.7 C183.0 147.6 180.0 145.6 180.6 143.4 C181.2 141.1 186.8 136.1 188.5 133.0 C190.3 129.9 190.2 126.7 191.2 124.6 C192.2 122.6 193.2 120.1 194.5 120.7Z" fill="#f3bdbe"/>
</g>
</g>
<path d="M135.2 77.5 L132.0 77.1 L131.6 76.1 L132.9 74.8 L129.7 72.9 L127.4 70.6 L127.0 67.4 L128.8 65.1 L132.0 63.8 L135.7 63.8 L138.0 61.9 L138.9 59.2 L140.7 61.0 L142.6 63.8 L143.5 66.5 L142.1 69.7 L140.3 72.9 L139.4 75.2 L139.8 77.1 L138.4 78.0Z" fill="#fff"/>
<path d="M162.1 68.5 L161.6 61.9 L159.9 58.5 L161.0 55.2 L163.8 54.1 L164.3 50.8 L166.5 48.1 L170.4 47.0 L172.0 49.2 L173.7 48.1 L175.3 48.6 L177.0 45.9 L177.5 42.0 L176.4 39.8 L173.7 37.6 L170.9 35.4 L168.7 37.1 L170.4 34.9 L173.1 33.2 L176.4 33.2 L178.1 34.9 L179.2 37.1 L180.8 37.6 L183.0 35.4 L182.0 36.5 L178.6 42.0 L172.0 55.2 L163.2 69.6Z" fill="#fff"/>
<path d="M116 223.4 L126.5 5.6 M39.35 147.5 Q150 148.5 268.5 154.6" stroke="#c8c8c8" stroke-width="0.6" opacity="0.4" fill="none" clip-path="url(#oc)"/>
<path d="M138.4 223.6 L136.0 216.0 L133.5 207.8 L131.8 202.0 L128.5 197.9 L122.7 194.6 L116.1 191.3 L109.5 189.6 L105.9 188.8 L104.6 191.3 L103.3 187.2 L100.5 185.5 L95.5 182.2 L90.5 178.1 L87.2 173.9 L86.4 169.8 L88.1 167.3 L84.8 166.2 L82.3 167.8 L79.0 166.5 L76.5 167.8 L74.9 166.5 L72.4 165.7 L71.2 167.3 L70.2 162.4 L69.9 156.6 L70.9 152.8 L72.8 146.4 L76.7 142.5 L80.5 142.5 L82.5 138.7 L83.8 133.5 L86.3 128.4 L90.2 125.2 L94.0 122.0 L96.0 116.8 L97.9 111.7 L99.2 107.2 L101.1 107.8 L104.3 105.3 L106.2 107.8 L108.8 104.0 L111.4 105.3 L113.3 102.7 L115.2 103.3 L116.9 99.5 L118.7 96.8 L120.6 97.7 L122.4 95.9 L123.3 93.1 L124.2 89.4 L126.5 86.7 L130.2 84.9 L133.9 83.5 L137.1 82.1 L139.4 79.8 L138.4 78.0 L135.2 77.5 L132.0 77.1 L131.6 76.1 L132.9 74.8 L129.7 72.9 L127.4 70.6 L127.0 67.4 L128.8 65.1 L132.0 63.8 L135.7 63.8 L138.0 61.9 L138.9 59.2 L140.7 61.0 L142.6 63.8 L143.5 66.5 L142.1 69.7 L140.3 72.9 L139.4 75.2 L139.8 77.1 L141.7 76.1 L144.9 75.2 L148.5 73.4 L152.2 72.5 L155.9 72.0 L160.0 70.6 L162.1 68.5 L161.6 61.9 L159.9 58.5 L161.0 55.2 L163.8 54.1 L164.3 50.8 L166.5 48.1 L170.4 47.0 L172.0 49.2 L173.7 48.1 L175.3 48.6 L177.0 45.9 L177.5 42.0 L176.4 39.8 L173.7 37.6 L170.9 35.4 L168.7 37.1 L170.4 34.9 L173.1 33.2 L176.4 33.2 L178.1 34.9 L179.2 37.1 L180.8 37.6 L183.0 35.4 L182.5 33.8 L184.1 34.3 L186.3 34.9 L188.5 33.2 L194.0 31.0 L199.6 29.4 L205.0 26.3 L207.6 24.4 L209.5 21.2 L210.8 23.1 L212.7 21.8 L214.6 21.2 L212.1 24.4 L216.6 24.4 L217.2 26.3 L218.5 23.8 L221.7 21.8 L225.5 19.3 L228.1 16.7 L232.0 15.4 L235.2 12.8 L235.8 10.3 L237.8 9.6 L239.0 11.6 L240.3 16.1 L242.2 15.4 L246.1 12.8 L248.0 10.3 L249.3 7.7 L250.0 9.6 L248.7 12.2 L250.0 14.1 L251.2 16.7 L253.2 17.3 L250.6 18.0 L250.0 19.3 L251.9 20.5 L255.7 21.8 L260.2 20.5 L263.4 18.0 L266.0 15.4 L268.6 14.5" fill="none" stroke="#000" stroke-width="1.75" stroke-linejoin="round"/>
<ellipse cx="136.9" cy="72.4" rx="1.5" ry="2.9" fill="none" stroke="#f80a12" stroke-width="1.4" transform="rotate(-15 136.9 72.4)"/>
<path d="M137.6 74.6 L139.4 77.4" fill="none" stroke="#0c6a10" stroke-width="1.6" stroke-linejoin="round" stroke-linecap="round"/>
<path d="M128.0 88.0 L129.5 94.0" fill="none" stroke="#f80a12" stroke-width="1.8" stroke-linejoin="round" stroke-linecap="round"/>
<path d="M131.5 88.5 L131.0 93.0" fill="none" stroke="#f80a12" stroke-width="1.6" stroke-linejoin="round" stroke-linecap="round"/>
<path d="M125.0 92.5 L127.5 91.2 L130.0 94.5 L131.5 96.2 L133.0 93.0 L136.0 90.0 L136.5 87.5 L133.5 88.0" fill="none" stroke="#0c6a10" stroke-width="1.7" stroke-linejoin="round" stroke-linecap="round"/>
<circle cx="131" cy="96.6" r="0.9" fill="#000"/>
<circle cx="218.6" cy="34.2" r="1.3" fill="#0c6a10"/>
<ellipse cx="196.3" cy="139.3" rx="3.3" ry="2.1" fill="none" stroke="#f80a12" stroke-width="1.2" transform="rotate(-25 196.3 139.3)"/>
<ellipse cx="196.3" cy="139.3" rx="3.9" ry="2.7" fill="none" stroke="#0c6a10" stroke-width="1.3" transform="rotate(-25 196.3 139.3)"/>
<path d="M267.0 17.5 C267.0 22.5 267.4 40.6 267.0 47.5 C266.6 54.4 266.0 54.2 264.5 58.8 C263.0 63.3 260.5 69.8 258.2 75.0 C256.0 80.2 253.7 85.4 250.8 90.0 C247.8 94.6 244.1 98.8 240.8 102.5 C237.4 106.2 234.1 109.1 230.8 112.0 C227.4 114.9 224.1 117.5 220.8 120.0 C217.4 122.5 214.5 124.7 210.8 127.0 C207.0 129.3 202.4 131.8 198.2 133.8 C194.1 135.7 189.9 137.2 185.8 138.8 C181.6 140.3 177.4 141.8 173.2 143.0 C169.1 144.2 164.9 145.0 160.8 145.8 C156.6 146.5 151.8 146.9 148.2 147.2 C144.8 147.6 142.8 148.0 139.8 148.0 C136.7 148.0 133.1 147.9 129.8 147.5 C126.4 147.1 123.1 146.5 119.8 145.8 C116.4 145.0 113.1 144.2 109.8 143.0 C106.4 141.8 102.2 140.3 99.8 138.8 C97.2 137.2 96.9 135.2 94.8 133.8 C92.6 132.3 88.1 130.6 86.8 130.0" fill="none" stroke="#f80a12" stroke-width="2.2" stroke-linejoin="round" stroke-linecap="round"/>
<path d="M163.8 69.0 C165.2 67.0 169.9 60.1 172.0 57.0 C174.1 53.9 175.4 51.7 176.6 50.4 C177.8 49.1 178.3 50.0 179.0 49.0 C179.7 48.0 180.0 46.0 180.8 44.4 C181.7 42.8 182.8 41.0 184.1 39.4 C185.4 37.8 187.8 35.7 188.5 35.0" fill="none" stroke="#f80a12" stroke-width="2.2" stroke-linejoin="round" stroke-linecap="round"/>
<path d="M218.2 36.9 C217.2 37.8 213.2 39.7 212.0 41.9 C210.8 44.2 210.8 47.8 210.8 50.7 C210.8 53.6 212.4 56.5 212.0 59.4 C211.6 62.4 209.7 65.5 208.2 68.2 C206.8 70.9 204.9 73.0 203.2 75.7 C201.6 78.4 198.9 81.5 198.2 84.4 C197.6 87.4 198.5 90.5 199.5 93.2 C200.5 95.9 203.0 98.2 204.5 100.7 C206.0 103.2 208.9 106.1 208.2 108.2 C207.6 110.3 203.2 111.5 200.8 113.2 C198.2 114.9 194.9 115.7 193.2 118.2 C191.6 120.7 191.4 125.8 190.8 128.2 C190.1 130.6 190.5 130.9 189.5 132.7 C188.5 134.5 186.2 136.6 184.5 139.2 C182.8 141.8 181.4 145.7 179.5 148.2 C177.6 150.7 175.5 152.2 173.2 154.4 C171.0 156.7 168.2 159.7 165.8 161.9 C163.2 164.2 160.8 166.5 158.2 168.2 C155.8 169.9 152.8 171.5 150.8 171.9 C148.7 172.4 147.2 171.5 145.8 170.7 C144.3 169.9 143.4 167.8 142.0 166.9 C140.6 166.1 139.7 166.3 137.2 165.7 C134.8 165.1 130.6 164.2 127.2 163.2 C123.9 162.2 120.6 161.1 117.2 159.4 C113.9 157.8 110.6 155.1 107.2 153.2 C103.9 151.3 99.7 149.8 97.2 148.2 C94.8 146.6 93.2 145.2 92.8 143.7 C92.3 142.2 93.6 141.0 94.8 139.4 C95.9 137.9 98.7 136.3 99.8 134.4 C100.8 132.6 101.1 130.0 101.0 128.2 C100.9 126.4 100.3 124.3 99.2 123.7 C98.2 123.1 96.5 123.7 94.8 124.4 C93.0 125.2 89.5 127.6 88.5 128.2" fill="none" stroke="#0c6a10" stroke-width="2.2" stroke-linejoin="round" stroke-linecap="round"/>
<path d="M218.2 36.9 C219.3 37.4 223.7 37.8 224.5 39.4 C225.3 41.1 223.7 44.4 223.2 46.9 C222.8 49.4 221.6 51.3 222.0 54.4 C222.4 57.6 224.7 62.4 225.8 65.7 C226.8 69.0 228.5 71.5 228.2 74.4 C228.0 77.4 225.3 79.7 224.5 83.2 C223.7 86.7 223.5 91.9 223.2 95.7 C223.0 99.4 222.6 103.7 223.2 105.7 C223.9 107.7 224.9 108.1 227.0 107.7 C229.1 107.3 232.6 105.6 235.8 103.2 C238.9 100.8 242.8 96.9 245.8 93.2 C248.7 89.4 251.2 84.9 253.2 80.7 C255.3 76.5 256.4 71.9 258.2 68.2 C260.1 64.4 263.0 61.9 264.5 58.2 C266.0 54.4 266.8 50.3 267.0 45.7 C267.2 41.1 265.8 35.3 265.8 30.7 C265.8 26.1 266.8 20.3 267.0 18.2" fill="none" stroke="#0c6a10" stroke-width="2.2" stroke-linejoin="round" stroke-linecap="round"/>
<path d="M163.2 69.3 L173.6 62.6 L182.8 58.0 L189.2 52.5 L192.0 45.1 L192.9 38.7 L193.4 32.3 L194.7 30.7 L200.1 30.5 L205.5 27.4 L208.1 25.5 L210.0 22.5 L211.3 24.2 L213.2 22.9 L215.1 22.3 L212.6 25.5 L217.1 25.5 L217.7 27.2 L219.0 24.9 L222.2 22.9 L226.0 20.4 L228.6 17.9 L232.5 16.5 L235.7 13.9 L236.3 11.4 L238.3 10.7 L239.5 12.5" fill="none" stroke="#0c6a10" stroke-width="2.2" stroke-linejoin="round" stroke-linecap="round"/>
<path d="M33.85 38.8 H39.35 M33.85 75.0 H39.35 M33.85 111.2 H39.35 M33.85 147.5 H39.35 M33.85 183.8 H39.35 M33.85 220.0 H39.35 M55.9 223.4 V228.9 M85.9 223.4 V228.9 M116.0 223.4 V228.9 M146.0 223.4 V228.9 M176.0 223.4 V228.9 M206.1 223.4 V228.9 M236.1 223.4 V228.9 M266.1 223.4 V228.9" stroke="#111" stroke-width="1.2" fill="none"/>
<rect x="39.35" y="5.6" width="229.15" height="217.8" fill="none" stroke="#1a1a1a" stroke-width="1.3"/>
<text x="3.0" y="79.1" textLength="24" lengthAdjust="spacingAndGlyphs" class="tk">36°N</text>
<text x="3.0" y="151.6" textLength="24" lengthAdjust="spacingAndGlyphs" class="tk">35°N</text>
<text x="3.0" y="224.1" textLength="24" lengthAdjust="spacingAndGlyphs" class="tk">34°N</text>
<text x="41.4" y="244.7" textLength="28.2" lengthAdjust="spacingAndGlyphs" class="tk">119°E</text>
<text x="101.5" y="244.7" textLength="28.2" lengthAdjust="spacingAndGlyphs" class="tk">120°E</text>
<text x="161.5" y="244.7" textLength="28.2" lengthAdjust="spacingAndGlyphs" class="tk">121°E</text>
<text x="221.6" y="244.7" textLength="28.2" lengthAdjust="spacingAndGlyphs" class="tk">122°E</text>
<rect x="44.6" y="10.6" width="21.8" height="20.2" fill="#fff" stroke="#444" stroke-width="0.9"/>
<text x="48.6" y="23.5" textLength="13.6" lengthAdjust="spacingAndGlyphs" class="lb">(d)</text>
<rect x="72.65" y="13.2" width="122.69999999999999" height="13.9" fill="#fff"/>
<text x="84.3" y="23.8" textLength="99.9" lengthAdjust="spacingAndGlyphs" style="font-size:12px" class="tt">1800 LST 02 Apr</text>
</g>
<path d="M165 419.3 H202.5" stroke="#f80a12" stroke-width="1.8" stroke-linecap="round"/>
<text x="208.5" y="424.1" class="lg">Exp-Ctrl</text>
<path d="M165 436.8 H202.5" stroke="#1f55e0" stroke-width="1.8" stroke-linecap="round"/>
<text x="208.5" y="441.6" class="lg">Exp-SB0</text>
<path d="M165 454.3 H202.5" stroke="#0c6a10" stroke-width="1.8" stroke-linecap="round"/>
<text x="208.5" y="459.1" class="lg">Exp-SB1</text>
<path d="M497.7 421.8 L485 352" stroke="#000" stroke-width="3.9" stroke-linecap="round" fill="none"/>
<path d="M480.4 334 L489.9 350.4 L478.1 352.9 Z" fill="#000" stroke="#000" stroke-width="0.8" stroke-linejoin="round"/>
<text x="439" y="442" class="an">clear-sky gap</text>
<text x="224.6" y="506.6" textLength="151.2" lengthAdjust="spacingAndGlyphs" class="cb">Water vapor mixing ratio (g/kg)</text>
<rect x="168.75" y="516.8" width="14.69" height="15.8" fill="#7a9be9" stroke="#333" stroke-width="0.6"/>
<rect x="183.44" y="516.8" width="14.69" height="15.8" fill="#92adee" stroke="#333" stroke-width="0.6"/>
<rect x="198.14" y="516.8" width="14.69" height="15.8" fill="#8ea9ed" stroke="#333" stroke-width="0.6"/>
<rect x="212.83" y="516.8" width="14.69" height="15.8" fill="#adc1f2" stroke="#333" stroke-width="0.6"/>
<rect x="227.53" y="516.8" width="14.69" height="15.8" fill="#a9bef1" stroke="#333" stroke-width="0.6"/>
<rect x="242.22" y="516.8" width="14.69" height="15.8" fill="#c6d4f6" stroke="#333" stroke-width="0.6"/>
<rect x="256.91" y="516.8" width="14.69" height="15.8" fill="#c8d6f6" stroke="#333" stroke-width="0.6"/>
<rect x="271.61" y="516.8" width="14.69" height="15.8" fill="#dee6fa" stroke="#333" stroke-width="0.6"/>
<rect x="286.30" y="516.8" width="14.69" height="15.8" fill="#e0e8fa" stroke="#333" stroke-width="0.6"/>
<rect x="301.00" y="516.8" width="14.69" height="15.8" fill="#ffffff" stroke="#333" stroke-width="0.6"/>
<rect x="315.69" y="516.8" width="14.69" height="15.8" fill="#ffffff" stroke="#333" stroke-width="0.6"/>
<rect x="330.38" y="516.8" width="14.69" height="15.8" fill="#f6d6d8" stroke="#333" stroke-width="0.6"/>
<rect x="345.08" y="516.8" width="14.69" height="15.8" fill="#f5d3d5" stroke="#333" stroke-width="0.6"/>
<rect x="359.77" y="516.8" width="14.69" height="15.8" fill="#f3bdbe" stroke="#333" stroke-width="0.6"/>
<rect x="374.47" y="516.8" width="14.69" height="15.8" fill="#f4c0c0" stroke="#333" stroke-width="0.6"/>
<rect x="389.16" y="516.8" width="14.69" height="15.8" fill="#f0a4a4" stroke="#333" stroke-width="0.6"/>
<rect x="403.85" y="516.8" width="14.69" height="15.8" fill="#f1a6a6" stroke="#333" stroke-width="0.6"/>
<rect x="418.55" y="516.8" width="14.69" height="15.8" fill="#ee8989" stroke="#333" stroke-width="0.6"/>
<text x="183.4" y="546.3" text-anchor="middle" class="cb">-16</text>
<text x="212.8" y="546.3" text-anchor="middle" class="cb">-12</text>
<text x="242.2" y="546.3" text-anchor="middle" class="cb">-8</text>
<text x="271.6" y="546.3" text-anchor="middle" class="cb">-4</text>
<text x="301.0" y="546.3" text-anchor="middle" class="cb">0</text>
<text x="330.4" y="546.3" text-anchor="middle" class="cb">4</text>
<text x="359.8" y="546.3" text-anchor="middle" class="cb">8</text>
<text x="389.2" y="546.3" text-anchor="middle" class="cb">12</text>
<text x="418.5" y="546.3" text-anchor="middle" class="cb">16</text>
</svg></body></html>
